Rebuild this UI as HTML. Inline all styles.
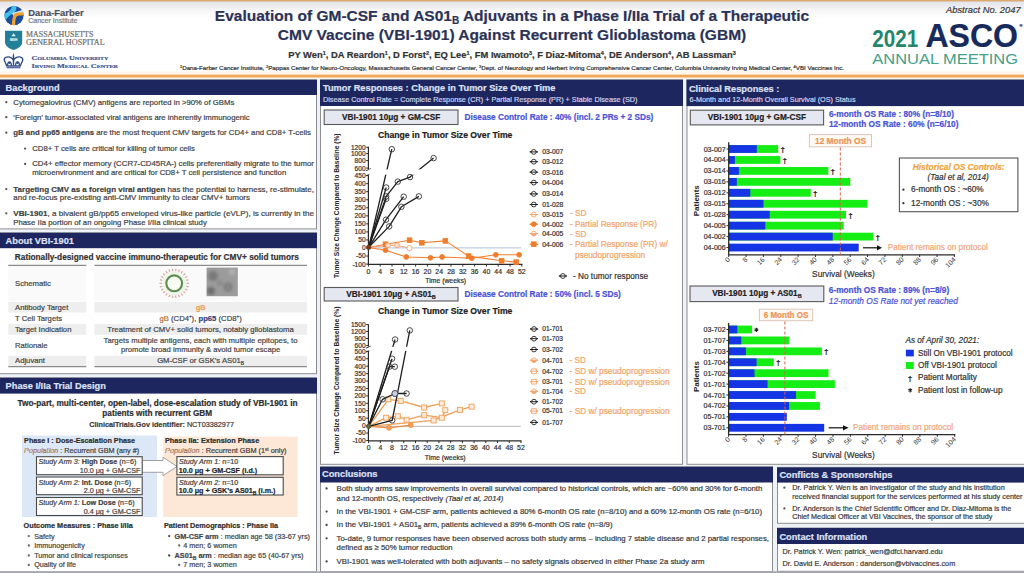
<!DOCTYPE html>
<html><head><meta charset="utf-8"><title>VBI-1901 Poster</title>
<style>
html,body{margin:0;padding:0;background:#fff;}
body{width:1024px;height:573px;overflow:hidden;}
svg{display:block;font-family:"Liberation Sans", sans-serif;}
</style></head><body>
<svg width="1024" height="573" viewBox="0 0 1024 573">
<rect x="0" y="0" width="1024" height="573" fill="#eef2f9"/>
<defs><linearGradient id="hg" x1="0" y1="0" x2="0" y2="1"><stop offset="0" stop-color="#e2e2ea"/><stop offset="0.06" stop-color="#e8e8ef"/><stop offset="0.13" stop-color="#f6f4f4"/><stop offset="0.24" stop-color="#ffffff"/><stop offset="1" stop-color="#ffffff"/></linearGradient><linearGradient id="og" x1="0" y1="0" x2="0" y2="1"><stop offset="0" stop-color="#f6c890"/><stop offset="0.5" stop-color="#ee9a40"/><stop offset="1" stop-color="#f6c890"/></linearGradient></defs>
<rect x="0" y="0" width="1024" height="75" fill="url(#hg)"/>
<rect x="0" y="0" width="1024" height="1.5" fill="#d9aa70"/>
<rect x="0" y="71.5" width="1024" height="3" fill="#fdf6ea"/>
<rect x="0" y="74.4" width="1024" height="3.4" fill="url(#og)"/>
<rect x="0" y="77.8" width="1024" height="1.4" fill="#f4f2f0"/>
<text x="512" y="21.1" font-size="15.5" font-weight="bold" fill="#2b3256" stroke="#2b3256" stroke-width="0.2" text-anchor="middle">Evaluation of GM-CSF and AS01<tspan font-size="10" dy="2.5">B</tspan><tspan dy="-2.5"> Adjuvants in a Phase I/IIa Trial of a Therapeutic</tspan></text>
<text x="512" y="39.6" font-size="15.5" font-weight="bold" fill="#2b3256" stroke="#2b3256" stroke-width="0.2" text-anchor="middle" textLength="468.5" lengthAdjust="spacingAndGlyphs">CMV Vaccine (VBI-1901) Against Recurrent Glioblastoma (GBM)</text>
<text x="512" y="58" font-size="9.4" font-weight="bold" fill="#333333" stroke="#333333" stroke-width="0.2" text-anchor="middle">PY Wen<tspan font-size="5.5" dy="-3.5">1</tspan><tspan dy="3.5">, DA Reardon<tspan font-size="5.5" dy="-3.5">1</tspan><tspan dy="3.5">, D Forst<tspan font-size="5.5" dy="-3.5">2</tspan><tspan dy="3.5">, EQ Lee<tspan font-size="5.5" dy="-3.5">1</tspan><tspan dy="3.5">, FM Iwamoto<tspan font-size="5.5" dy="-3.5">3</tspan><tspan dy="3.5">, F Diaz-Mitoma<tspan font-size="5.5" dy="-3.5">4</tspan><tspan dy="3.5">, DE Anderson<tspan font-size="5.5" dy="-3.5">4</tspan><tspan dy="3.5">, AB Lassman<tspan font-size="5.5" dy="-3.5">3</tspan><tspan dy="3.5"></tspan></tspan></tspan></tspan></tspan></tspan></tspan></tspan></text>
<text x="512" y="69.7" font-size="5.6" fill="#333" stroke="#333" stroke-width="0.2" text-anchor="middle" textLength="664" lengthAdjust="spacingAndGlyphs"><tspan font-size="3.5" dy="-2">1</tspan><tspan dy="2">Dana-Farber Cancer Institute, </tspan><tspan font-size="3.5" dy="-2">2</tspan><tspan dy="2">Pappas Center for Neuro-Oncology, Massachusetts General Cancer Center, </tspan><tspan font-size="3.5" dy="-2">3</tspan><tspan dy="2">Dept. of Neurology and Herbert Irving Comprehensive Cancer Center, Columbia University Irving Medical Center, </tspan><tspan font-size="3.5" dy="-2">4</tspan><tspan dy="2">VBI Vaccines Inc.</tspan></text>
<defs><clipPath id="dfc"><circle cx="14" cy="15.5" r="9.8"/></clipPath></defs>
<g clip-path="url(#dfc)"><circle cx="14" cy="15.5" r="9.8" fill="#1c4c9c"/><path d="M15,4 C18,8 16,12 12,14 C9,16 6,18 4,24 L1,24 L1,14 C5,14 9,12 11,9 C12,7 12,5 12,4 Z" fill="#45bfea"/><path d="M12,13.5 C14,12 17,12 19,11 L22,10 L24,13 L18,14.2 C16,15 15,17 15,19 Z" fill="#dff3fb" opacity="0.9"/><path d="M11.8,26 C12,21 12.5,16 14.5,13.8 C16,12.6 19,12.5 24.5,12.2 L24.5,15.2 C20,15.3 17.5,15.6 16.6,16.6 C15.5,18 15.2,22 15.2,26 Z" fill="#f2a22c"/></g>
<text x="28.2" y="15.8" font-size="8.7" font-weight="bold" fill="#4d525e" stroke="#4d525e" stroke-width="0.2" textLength="55.5" lengthAdjust="spacingAndGlyphs">Dana-Farber</text>
<text x="28.2" y="23" font-size="6.6" fill="#7a7d85" stroke="#7a7d85" stroke-width="0.2" textLength="49.3" lengthAdjust="spacingAndGlyphs">Cancer Institute</text>
<path d="M5,30.7 L22.2,30.7 L22.2,42 C22.2,46 18,48.6 13.6,50 C9.2,48.6 5,46 5,42 Z" stroke="none" fill="#237f98" stroke-width="1"/>
<text x="13.6" y="41" font-size="3.2" font-weight="bold" fill="#d6eef4" stroke="#d6eef4" stroke-width="0.2" text-anchor="middle">MGH</text>
<path d="M11.4,36.2 L13.6,33.2 L15.8,36.2 Z" stroke="none" fill="#d6eef4" stroke-width="1"/>
<text x="26" y="37.1" font-size="7.9" fill="#6e6e6e" stroke="#6e6e6e" stroke-width="0.2" textLength="67.3" lengthAdjust="spacingAndGlyphs" font-family="Liberation Serif">MASSACHUSETTS</text>
<text x="26" y="44.7" font-size="7.9" fill="#6e6e6e" stroke="#6e6e6e" stroke-width="0.2" textLength="78.7" lengthAdjust="spacingAndGlyphs" font-family="Liberation Serif">GENERAL HOSPITAL</text>
<g fill="none" stroke="#2e4c80" stroke-width="1.3"><path d="M4.2,60 C4,56.8 8.5,56.4 10.8,57.6 C12.2,58.3 13,59.2 13.5,60.2 C14,59.2 14.8,58.3 16.2,57.6 C18.5,56.4 23,56.8 22.8,60 L20.3,65.8 L6.7,65.8 Z"/><path d="M7.6,65.8 C7.4,60.6 11.4,60.6 11.4,65.8"/><path d="M15.6,65.8 C15.6,60.6 19.6,60.6 19.4,65.8"/></g><g fill="#2e4c80"><circle cx="9.5" cy="63" r="1.1"/><circle cx="17.5" cy="63" r="1.1"/><path d="M13.5,53 C14.3,55 14.5,57 14.3,60 L14.1,65.5 L12.9,65.5 L12.7,60 C12.5,57 12.7,55 13.5,53 Z"/><rect x="6.6" y="66.4" width="13.8" height="1.9" fill="#5868a2"/></g>
<text x="31.5" y="59.9" font-size="6.6" font-weight="bold" fill="#45588f" stroke="#45588f" stroke-width="0.2" textLength="77" lengthAdjust="spacingAndGlyphs" font-family="Liberation Serif">C<tspan font-size="5">OLUMBIA</tspan> U<tspan font-size="5">NIVERSITY</tspan></text>
<text x="31.5" y="67.9" font-size="6.6" font-weight="bold" fill="#45588f" stroke="#45588f" stroke-width="0.2" textLength="86.5" lengthAdjust="spacingAndGlyphs" font-family="Liberation Serif">I<tspan font-size="5">RVING</tspan> M<tspan font-size="5">EDICAL</tspan> C<tspan font-size="5">ENTER</tspan></text>
<text x="1020.6" y="12.9" font-size="8.9" font-style="italic" fill="#3a3a3a" stroke="#3a3a3a" stroke-width="0.2" text-anchor="end" textLength="74.6" lengthAdjust="spacingAndGlyphs">Abstract No. 2047</text>
<text x="872.3" y="47.1" font-size="23" font-weight="bold" fill="#23866a" textLength="45.9" lengthAdjust="spacingAndGlyphs">2021</text>
<text x="925.4" y="47.1" font-size="32.5" font-weight="bold" fill="#162a5c" stroke="#162a5c" stroke-width="0.2" textLength="92.6" lengthAdjust="spacingAndGlyphs">ASCO</text>
<text x="1019.5" y="27" font-size="4" fill="#162a5c" stroke="#162a5c" stroke-width="0.2">®</text>
<text x="872.3" y="64.3" font-size="15.5" fill="#45a089" textLength="145.7" lengthAdjust="spacingAndGlyphs">ANNUAL MEETING</text>
<rect x="-2" y="79.8" width="318.5" height="149.10000000000002" fill="#ffffff" stroke="#8e8e8e" stroke-width="1"/>
<rect x="0" y="79.8" width="317" height="15.200000000000003" fill="#1e2660"/>
<text x="5.6" y="90.8" font-size="9.25" font-weight="bold" fill="#dde1f4" stroke="#dde1f4" stroke-width="0.2">Background</text>
<rect x="-2" y="232.8" width="318.5" height="140.89999999999998" fill="#ffffff" stroke="#8e8e8e" stroke-width="1"/>
<rect x="0" y="232.8" width="317" height="15.399999999999977" fill="#1e2660"/>
<text x="5.6" y="243.8" font-size="9.25" font-weight="bold" fill="#dde1f4" stroke="#dde1f4" stroke-width="0.2">About VBI-1901</text>
<rect x="-2" y="377.8" width="318.5" height="194.2" fill="#ffffff" stroke="#8e8e8e" stroke-width="1"/>
<rect x="0" y="377.8" width="317" height="15.800000000000011" fill="#1e2660"/>
<text x="5.6" y="389.4" font-size="9.25" font-weight="bold" fill="#dde1f4" stroke="#dde1f4" stroke-width="0.2">Phase I/IIa Trial Design</text>
<circle cx="6.3" cy="102.19999999999999" r="1.15" fill="#555"/>
<text x="13.3" y="104.6" font-size="7.75" fill="#424242" stroke="#424242" stroke-width="0.2" textLength="221" lengthAdjust="spacingAndGlyphs">Cytomegalovirus (CMV) antigens are reported in &gt;90% of GBMs</text>
<circle cx="6.3" cy="117.19999999999999" r="1.15" fill="#555"/>
<text x="13.3" y="119.6" font-size="7.75" fill="#424242" stroke="#424242" stroke-width="0.2" textLength="236.4" lengthAdjust="spacingAndGlyphs">‘Foreign’ tumor-associated viral antigens are inherently immunogenic</text>
<circle cx="6.3" cy="132.7" r="1.15" fill="#555"/>
<text x="13.3" y="135.1" font-size="7.75" fill="#424242" stroke="#424242" stroke-width="0.2" textLength="297.5" lengthAdjust="spacingAndGlyphs"><tspan font-weight="bold">gB and pp65 antigens</tspan> are the most frequent CMV targets for CD4+ and CD8+ T-cells</text>
<circle cx="25.1" cy="148.6" r="1.15" fill="#555"/>
<text x="32.2" y="151" font-size="7.75" fill="#424242" stroke="#424242" stroke-width="0.2" textLength="162.7" lengthAdjust="spacingAndGlyphs">CD8+ T cells are critical for killing of tumor cells</text>
<circle cx="25.1" cy="164.0" r="1.15" fill="#555"/>
<text x="32.2" y="166.4" font-size="7.75" fill="#424242" stroke="#424242" stroke-width="0.2" textLength="281.8" lengthAdjust="spacingAndGlyphs">CD4+ effector memory (CCR7-CD45RA-) cells preferentially migrate to the tumor</text>
<text x="32.2" y="175.3" font-size="7.75" fill="#424242" stroke="#424242" stroke-width="0.2" textLength="254" lengthAdjust="spacingAndGlyphs">microenvironment and are critical for CD8+ T cell persistence and function</text>
<circle cx="6.3" cy="189.1" r="1.15" fill="#555"/>
<text x="13.3" y="191.5" font-size="7.75" fill="#424242" stroke="#424242" stroke-width="0.2" textLength="300.7" lengthAdjust="spacingAndGlyphs"><tspan font-weight="bold">Targeting CMV as a foreign viral antigen</tspan> has the potential to harness, re-stimulate,</text>
<text x="13.3" y="200.4" font-size="7.75" fill="#424242" stroke="#424242" stroke-width="0.2" textLength="236.7" lengthAdjust="spacingAndGlyphs">and re-focus pre-existing anti-CMV immunity to clear CMV+ tumors</text>
<circle cx="6.3" cy="213.29999999999998" r="1.15" fill="#555"/>
<text x="13.3" y="215.7" font-size="7.75" fill="#424242" stroke="#424242" stroke-width="0.2" textLength="300.7" lengthAdjust="spacingAndGlyphs"><tspan font-weight="bold">VBI-1901</tspan>, a bivalent gB/pp65 enveloped virus-like particle (eVLP), is currently in the</text>
<text x="13.3" y="224.8" font-size="7.75" fill="#424242" stroke="#424242" stroke-width="0.2" textLength="193.5" lengthAdjust="spacingAndGlyphs">Phase IIa portion of an ongoing Phase I/IIa clinical study</text>
<text x="14.8" y="259.6" font-size="8.28" font-weight="bold" fill="#333" stroke="#333" stroke-width="0.2" textLength="284" lengthAdjust="spacingAndGlyphs">Rationally-designed vaccine immuno-therapeutic for CMV+ solid tumors</text>
<line x1="8.3" y1="265.4" x2="86.3" y2="265.4" stroke="#8a8a8a" stroke-width="1.3"/>
<line x1="94.4" y1="265.4" x2="307" y2="265.4" stroke="#8a8a8a" stroke-width="1.3"/>
<rect x="8.3" y="266" width="78" height="35.5" fill="#fafafa"/>
<rect x="94.4" y="266" width="212.6" height="35.5" fill="#fafafa"/>
<rect x="8.3" y="302" width="78" height="10.5" fill="#eeeeee"/>
<rect x="94.4" y="302" width="212.6" height="10.5" fill="#eeeeee"/>
<rect x="8.3" y="324" width="78" height="10.800000000000011" fill="#eeeeee"/>
<rect x="94.4" y="324" width="212.6" height="10.800000000000011" fill="#eeeeee"/>
<rect x="8.3" y="355.8" width="78" height="10.199999999999989" fill="#eeeeee"/>
<rect x="94.4" y="355.8" width="212.6" height="10.199999999999989" fill="#eeeeee"/>
<line x1="8.3" y1="366.6" x2="86.3" y2="366.6" stroke="#8a8a8a" stroke-width="1.3"/>
<line x1="94.4" y1="366.6" x2="307" y2="366.6" stroke="#8a8a8a" stroke-width="1.3"/>
<text x="15" y="285.8" font-size="7.7" fill="#444" stroke="#444" stroke-width="0.2">Schematic</text>
<text x="15" y="309.8" font-size="7.7" fill="#444" stroke="#444" stroke-width="0.2">Antibody Target</text>
<text x="15" y="320.7" font-size="7.7" fill="#444" stroke="#444" stroke-width="0.2">T Cell Targets</text>
<text x="15" y="331.7" font-size="7.7" fill="#444" stroke="#444" stroke-width="0.2">Target Indication</text>
<text x="15" y="347.7" font-size="7.7" fill="#444" stroke="#444" stroke-width="0.2">Rationale</text>
<text x="15" y="363.4" font-size="7.7" fill="#444" stroke="#444" stroke-width="0.2">Adjuvant</text>
<text x="200.6" y="309.7" font-size="7.7" fill="#f08a3c" stroke="#f08a3c" stroke-width="0.2" text-anchor="middle">gB</text>
<text x="200.6" y="320.9" font-size="7.7" fill="#444" stroke="#444" stroke-width="0.2" text-anchor="middle"><tspan fill="#f08a3c">gB</tspan> (CD4<tspan font-size="4.5" dy="-3">+</tspan><tspan dy="3">), </tspan><tspan fill="#2c3c8c" font-weight="bold">pp65</tspan> (CD8<tspan font-size="4.5" dy="-3">+</tspan><tspan dy="3">)</tspan></text>
<text x="200.6" y="331.7" font-size="7.7" fill="#444" stroke="#444" stroke-width="0.2" text-anchor="middle" textLength="186.5" lengthAdjust="spacingAndGlyphs">Treatment of CMV+ solid tumors, notably glioblastoma</text>
<text x="200.6" y="342.8" font-size="7.7" fill="#444" stroke="#444" stroke-width="0.2" text-anchor="middle" textLength="194" lengthAdjust="spacingAndGlyphs">Targets multiple antigens, each with multiple epitopes, to</text>
<text x="200.6" y="351.7" font-size="7.7" fill="#444" stroke="#444" stroke-width="0.2" text-anchor="middle">promote broad immunity &amp; avoid tumor escape</text>
<text x="200.6" y="363.3" font-size="7.7" fill="#444" stroke="#444" stroke-width="0.2" text-anchor="middle">GM-CSF or GSK’s AS01<tspan font-size="5" dy="2">B</tspan></text>
<g transform="translate(174.2,283.3)"><circle r="11.8" fill="#eef5e8"/><line x1="12.30" y1="0.00" x2="14.80" y2="0.00" stroke="#d9a49c" stroke-width="1.2"/><line x1="11.94" y1="2.94" x2="14.37" y2="3.54" stroke="#d9a49c" stroke-width="1.2"/><line x1="10.89" y1="5.72" x2="13.10" y2="6.88" stroke="#d9a49c" stroke-width="1.2"/><line x1="9.21" y1="8.16" x2="11.08" y2="9.81" stroke="#d9a49c" stroke-width="1.2"/><line x1="6.99" y1="10.12" x2="8.41" y2="12.18" stroke="#d9a49c" stroke-width="1.2"/><line x1="4.36" y1="11.50" x2="5.25" y2="13.84" stroke="#d9a49c" stroke-width="1.2"/><line x1="1.48" y1="12.21" x2="1.78" y2="14.69" stroke="#d9a49c" stroke-width="1.2"/><line x1="-1.48" y1="12.21" x2="-1.78" y2="14.69" stroke="#d9a49c" stroke-width="1.2"/><line x1="-4.36" y1="11.50" x2="-5.25" y2="13.84" stroke="#d9a49c" stroke-width="1.2"/><line x1="-6.99" y1="10.12" x2="-8.41" y2="12.18" stroke="#d9a49c" stroke-width="1.2"/><line x1="-9.21" y1="8.16" x2="-11.08" y2="9.81" stroke="#d9a49c" stroke-width="1.2"/><line x1="-10.89" y1="5.72" x2="-13.10" y2="6.88" stroke="#d9a49c" stroke-width="1.2"/><line x1="-11.94" y1="2.94" x2="-14.37" y2="3.54" stroke="#d9a49c" stroke-width="1.2"/><line x1="-12.30" y1="-0.00" x2="-14.80" y2="-0.00" stroke="#d9a49c" stroke-width="1.2"/><line x1="-11.94" y1="-2.94" x2="-14.37" y2="-3.54" stroke="#d9a49c" stroke-width="1.2"/><line x1="-10.89" y1="-5.72" x2="-13.10" y2="-6.88" stroke="#d9a49c" stroke-width="1.2"/><line x1="-9.21" y1="-8.16" x2="-11.08" y2="-9.81" stroke="#d9a49c" stroke-width="1.2"/><line x1="-6.99" y1="-10.12" x2="-8.41" y2="-12.18" stroke="#d9a49c" stroke-width="1.2"/><line x1="-4.36" y1="-11.50" x2="-5.25" y2="-13.84" stroke="#d9a49c" stroke-width="1.2"/><line x1="-1.48" y1="-12.21" x2="-1.78" y2="-14.69" stroke="#d9a49c" stroke-width="1.2"/><line x1="1.48" y1="-12.21" x2="1.78" y2="-14.69" stroke="#d9a49c" stroke-width="1.2"/><line x1="4.36" y1="-11.50" x2="5.25" y2="-13.84" stroke="#d9a49c" stroke-width="1.2"/><line x1="6.99" y1="-10.12" x2="8.41" y2="-12.18" stroke="#d9a49c" stroke-width="1.2"/><line x1="9.21" y1="-8.16" x2="11.08" y2="-9.81" stroke="#d9a49c" stroke-width="1.2"/><line x1="10.89" y1="-5.72" x2="13.10" y2="-6.88" stroke="#d9a49c" stroke-width="1.2"/><line x1="11.94" y1="-2.94" x2="14.37" y2="-3.54" stroke="#d9a49c" stroke-width="1.2"/><circle r="7.9" fill="#f6fcf2" stroke="#5c8c52" stroke-width="2.1"/></g>
<defs><filter id="bl" x="-0.2" y="-0.2" width="1.4" height="1.4"><feGaussianBlur stdDeviation="1.6"/></filter></defs>
<rect x="206.6" y="267.6" width="31.2" height="28.6" fill="#9c9c9c"/>
<defs><clipPath id="emc"><rect x="206.6" y="267.6" width="31.2" height="28.6"/></clipPath></defs><g clip-path="url(#emc)"><g filter="url(#bl)" opacity="0.9"><circle cx="213" cy="276" r="5" fill="#777"/><circle cx="228" cy="287" r="4.5" fill="#7a7a7a"/><circle cx="211" cy="291" r="4" fill="#6a6a6a"/><circle cx="232" cy="272" r="3.5" fill="#b0b0b0"/><circle cx="220" cy="283" r="3" fill="#8a8a8a"/></g></g>
<circle cx="228" cy="287" r="2.2" fill="#888" opacity="0.8"/>
<text x="157.6" y="405.6" font-size="8.27" font-weight="bold" fill="#2e2e2e" stroke="#2e2e2e" stroke-width="0.2" text-anchor="middle" textLength="280" lengthAdjust="spacingAndGlyphs">Two-part, multi-center, open-label, dose-escalation study of VBI-1901 in</text>
<text x="157.2" y="415.6" font-size="8.27" font-weight="bold" fill="#2e2e2e" stroke="#2e2e2e" stroke-width="0.2" text-anchor="middle" textLength="109.7" lengthAdjust="spacingAndGlyphs">patients with recurrent GBM</text>
<text x="161.6" y="427.4" font-size="7.3" fill="#3a3a3a" stroke="#3a3a3a" stroke-width="0.2" text-anchor="middle" textLength="144.7" lengthAdjust="spacingAndGlyphs"><tspan font-weight="bold">ClinicalTrials.Gov identifier:</tspan> NCT03382977</text>
<rect x="22" y="435.5" width="135" height="81.5" fill="#dde8f7"/>
<rect x="163.3" y="436.6" width="134.2" height="80.4" fill="#fde7d6"/>
<text x="24.1" y="443.3" font-size="7.21" font-weight="bold" fill="#2e2e2e" stroke="#2e2e2e" stroke-width="0.2" textLength="111" lengthAdjust="spacingAndGlyphs">Phase I : Dose-Escalation Phase</text>
<text x="24.1" y="452.8" font-size="7.2" fill="#3e3e3e" stroke="#3e3e3e" stroke-width="0.2" textLength="115" lengthAdjust="spacingAndGlyphs"><tspan fill="#f4b08a" font-style="italic">Population</tspan> : Recurrent GBM (any #)</text>
<text x="165" y="443.3" font-size="7.21" font-weight="bold" fill="#2e2e2e" stroke="#2e2e2e" stroke-width="0.2" textLength="94.2" lengthAdjust="spacingAndGlyphs">Phase IIa: Extension Phase</text>
<text x="165" y="453" font-size="7.2" fill="#3e3e3e" stroke="#3e3e3e" stroke-width="0.2" textLength="121.5" lengthAdjust="spacingAndGlyphs"><tspan fill="#f4b08a" font-style="italic">Population</tspan> : Recurrent GBM (1<tspan font-size="4.5" dy="-2.5">st</tspan><tspan dy="2.5"> only)</tspan></text>
<path d="M142.2,460.5 L163,460.5 L163,457.3 L177,466.4 L163,475.7 L163,472.3 L142.2,472.3" stroke="#8a8a8a" fill="#ffffff" stroke-width="0.8"/>
<rect x="36.5" y="456.7" width="105.7" height="18" fill="#ffffff" stroke="#4a4a4a" stroke-width="1.1"/>
<text x="38.5" y="464.2" font-size="7.2" fill="#3e3e3e" stroke="#3e3e3e" stroke-width="0.2"><tspan font-style="italic">Study Arm 3:</tspan> <tspan font-weight="bold">High Dose</tspan> (n=6)</text>
<text x="140.39999999999998" y="472.7" font-size="7.2" fill="#3e3e3e" stroke="#3e3e3e" stroke-width="0.2" text-anchor="end">10.0 μg + GM-CSF</text>
<rect x="36.5" y="477" width="105.7" height="17.7" fill="#ffffff" stroke="#4a4a4a" stroke-width="1.1"/>
<text x="38.5" y="484.5" font-size="7.2" fill="#3e3e3e" stroke="#3e3e3e" stroke-width="0.2"><tspan font-style="italic">Study Arm 2:</tspan> <tspan font-weight="bold">Int. Dose</tspan> (n=6)</text>
<text x="140.39999999999998" y="493" font-size="7.2" fill="#3e3e3e" stroke="#3e3e3e" stroke-width="0.2" text-anchor="end">2.0 μg + GM-CSF</text>
<rect x="36.5" y="497.5" width="105.7" height="18" fill="#ffffff" stroke="#4a4a4a" stroke-width="1.1"/>
<text x="38.5" y="505.0" font-size="7.2" fill="#3e3e3e" stroke="#3e3e3e" stroke-width="0.2"><tspan font-style="italic">Study Arm 1:</tspan> <tspan font-weight="bold">Low Dose</tspan> (n=6)</text>
<text x="140.39999999999998" y="513.5" font-size="7.2" fill="#3e3e3e" stroke="#3e3e3e" stroke-width="0.2" text-anchor="end">0.4 μg + GM-CSF</text>
<rect x="176.9" y="456.6" width="106.3" height="18.2" fill="#ffffff" stroke="#4a4a4a" stroke-width="1.1"/>
<text x="178.9" y="464.1" font-size="7.2" fill="#3e3e3e" stroke="#3e3e3e" stroke-width="0.2"><tspan font-style="italic">Study Arm 1:</tspan> n=10</text>
<text x="178.70000000000002" y="472.6" font-size="7.2" font-weight="bold" fill="#222" stroke="#222" stroke-width="0.2">10.0 μg + GM-CSF (i.d.)</text>
<rect x="176.9" y="477.3" width="106.3" height="17.7" fill="#ffffff" stroke="#4a4a4a" stroke-width="1.1"/>
<text x="178.9" y="484.8" font-size="7.2" fill="#3e3e3e" stroke="#3e3e3e" stroke-width="0.2"><tspan font-style="italic">Study Arm 2:</tspan> n=10</text>
<text x="178.70000000000002" y="493.3" font-size="7.2" font-weight="bold" fill="#222" stroke="#222" stroke-width="0.2">10.0 μg + GSK’s AS01<tspan font-size="5" dy="2">B</tspan><tspan dy="-2"> (i.m.)</tspan></text>
<text x="23.6" y="528" font-size="7.27" font-weight="bold" fill="#2e2e2e" stroke="#2e2e2e" stroke-width="0.2" textLength="109.1" lengthAdjust="spacingAndGlyphs">Outcome Measures : Phase I/IIa</text>
<circle cx="28.8" cy="536.1" r="1.15" fill="#666"/>
<text x="34.2" y="538.5" font-size="7.23" fill="#444" stroke="#444" stroke-width="0.2">Safety</text>
<circle cx="28.8" cy="545.5" r="1.15" fill="#666"/>
<text x="34.2" y="547.9" font-size="7.23" fill="#444" stroke="#444" stroke-width="0.2">Immunogenicity</text>
<circle cx="28.8" cy="555.5" r="1.15" fill="#666"/>
<text x="34.2" y="557.9" font-size="7.23" fill="#444" stroke="#444" stroke-width="0.2">Tumor and clinical responses</text>
<circle cx="28.8" cy="565.0" r="1.15" fill="#666"/>
<text x="34.2" y="567.4" font-size="7.23" fill="#444" stroke="#444" stroke-width="0.2">Quality of life</text>
<text x="164" y="528" font-size="7.22" font-weight="bold" fill="#2e2e2e" stroke="#2e2e2e" stroke-width="0.2" textLength="114" lengthAdjust="spacingAndGlyphs">Patient Demographics : Phase IIa</text>
<circle cx="169.2" cy="536.1" r="1.15" fill="#444"/>
<text x="174.5" y="538.5" font-size="7.23" fill="#444" stroke="#444" stroke-width="0.2" textLength="135.5" lengthAdjust="spacingAndGlyphs"><tspan font-weight="bold">GM-CSF arm</tspan> : median age 58 (33-67 yrs)</text>
<circle cx="179.2" cy="545.5" r="1.15" fill="#666"/>
<text x="183.3" y="547.9" font-size="7.23" fill="#444" stroke="#444" stroke-width="0.2">4 men; 6 women</text>
<circle cx="169.2" cy="555.5" r="1.15" fill="#444"/>
<text x="174.5" y="557.9" font-size="7.23" fill="#444" stroke="#444" stroke-width="0.2" textLength="129" lengthAdjust="spacingAndGlyphs"><tspan font-weight="bold">AS01<tspan font-size="5" dy="2">B</tspan><tspan dy="-2"> arm</tspan></tspan> : median age 65 (40-67 yrs)</text>
<circle cx="179.2" cy="565.0" r="1.15" fill="#666"/>
<text x="183.3" y="567.4" font-size="7.23" fill="#444" stroke="#444" stroke-width="0.2">7 men; 3 women</text>
<rect x="320.5" y="79.8" width="362.0" height="384.5" fill="#ffffff" stroke="#8e8e8e" stroke-width="1"/>
<rect x="320" y="79.8" width="363" height="26.200000000000003" fill="#1e2660"/>
<text x="323" y="91.3" font-size="9.25" font-weight="bold" fill="#dde1f4" stroke="#dde1f4" stroke-width="0.2">Tumor Responses : Change in Tumor Size Over Time</text>
<text x="323" y="102" font-size="7.26" fill="#cdd2ee" stroke="#cdd2ee" stroke-width="0.2">Disease Control Rate = Complete Response (CR) + Partial Response (PR) + Stable Disease (SD)</text>
<rect x="324.2" y="110" width="133.8" height="14.5" fill="#e5e7f1" stroke="#5a5a5a" stroke-width="1.1"/>
<text x="391.1" y="119.9" font-size="8.2" font-weight="bold" fill="#222" stroke="#222" stroke-width="0.2" text-anchor="middle" textLength="98.2" lengthAdjust="spacingAndGlyphs">VBI-1901 10μg + GM-CSF</text>
<text x="464.5" y="119.9" font-size="8.26" font-weight="bold" fill="#4a52d6" stroke="#4a52d6" stroke-width="0.2" textLength="188.8" lengthAdjust="spacingAndGlyphs">Disease Control Rate : 40% (incl. 2 PRs + 2 SDs)</text>
<text x="378" y="137.6" font-size="8.63" font-weight="bold" fill="#222" stroke="#222" stroke-width="0.2" textLength="134.4" lengthAdjust="spacingAndGlyphs">Change in Tumor Size Over Time</text>
<rect x="324.2" y="287.5" width="133.8" height="13.5" fill="#e5e7f1" stroke="#5a5a5a" stroke-width="1.1"/>
<text x="391.1" y="296.9" font-size="8.2" font-weight="bold" fill="#222" stroke="#222" stroke-width="0.2" text-anchor="middle">VBI-1901 10μg + AS01<tspan font-size="5.5" dy="2">B</tspan></text>
<text x="464.5" y="296.9" font-size="8.26" font-weight="bold" fill="#4a52d6" stroke="#4a52d6" stroke-width="0.2">Disease Control Rate : 50% (incl. 5 SDs)</text>
<text x="378" y="314" font-size="8.63" font-weight="bold" fill="#222" stroke="#222" stroke-width="0.2" textLength="134.4" lengthAdjust="spacingAndGlyphs">Change in Tumor Size Over Time</text>
<text transform="translate(339.2,205.8) rotate(-90)" font-size="6.6" font-weight="bold" fill="#222" text-anchor="middle">Tumor Size Change Compared to Baseline (%)</text>
<line x1="368.4" y1="146.8" x2="368.4" y2="169" stroke="#2a2a2a" stroke-width="1.2"/>
<line x1="368.4" y1="175.2" x2="368.4" y2="264.4" stroke="#2a2a2a" stroke-width="1.2"/>
<line x1="366.2" y1="147.3" x2="368.4" y2="147.3" stroke="#2a2a2a" stroke-width="1"/>
<text x="365.59999999999997" y="149.70000000000002" font-size="6.6" fill="#333" stroke="#333" stroke-width="0.2" text-anchor="end">1200</text>
<line x1="366.2" y1="153.6" x2="368.4" y2="153.6" stroke="#2a2a2a" stroke-width="1"/>
<text x="365.59999999999997" y="156.0" font-size="6.6" fill="#333" stroke="#333" stroke-width="0.2" text-anchor="end">1000</text>
<line x1="366.2" y1="160.6" x2="368.4" y2="160.6" stroke="#2a2a2a" stroke-width="1"/>
<text x="365.59999999999997" y="163.0" font-size="6.6" fill="#333" stroke="#333" stroke-width="0.2" text-anchor="end">800</text>
<line x1="366.2" y1="168.1" x2="368.4" y2="168.1" stroke="#2a2a2a" stroke-width="1"/>
<text x="365.59999999999997" y="170.5" font-size="6.6" fill="#333" stroke="#333" stroke-width="0.2" text-anchor="end">600</text>
<line x1="366.2" y1="175.6" x2="368.4" y2="175.6" stroke="#2a2a2a" stroke-width="1"/>
<text x="365.59999999999997" y="178.0" font-size="6.6" fill="#333" stroke="#333" stroke-width="0.2" text-anchor="end">450</text>
<line x1="366.2" y1="183.64545454545456" x2="368.4" y2="183.64545454545456" stroke="#2a2a2a" stroke-width="1"/>
<text x="365.59999999999997" y="186.04545454545456" font-size="6.6" fill="#333" stroke="#333" stroke-width="0.2" text-anchor="end">400</text>
<line x1="366.2" y1="191.6909090909091" x2="368.4" y2="191.6909090909091" stroke="#2a2a2a" stroke-width="1"/>
<text x="365.59999999999997" y="194.0909090909091" font-size="6.6" fill="#333" stroke="#333" stroke-width="0.2" text-anchor="end">350</text>
<line x1="366.2" y1="199.73636363636365" x2="368.4" y2="199.73636363636365" stroke="#2a2a2a" stroke-width="1"/>
<text x="365.59999999999997" y="202.13636363636365" font-size="6.6" fill="#333" stroke="#333" stroke-width="0.2" text-anchor="end">300</text>
<line x1="366.2" y1="207.78181818181818" x2="368.4" y2="207.78181818181818" stroke="#2a2a2a" stroke-width="1"/>
<text x="365.59999999999997" y="210.1818181818182" font-size="6.6" fill="#333" stroke="#333" stroke-width="0.2" text-anchor="end">250</text>
<line x1="366.2" y1="215.82727272727274" x2="368.4" y2="215.82727272727274" stroke="#2a2a2a" stroke-width="1"/>
<text x="365.59999999999997" y="218.22727272727275" font-size="6.6" fill="#333" stroke="#333" stroke-width="0.2" text-anchor="end">200</text>
<line x1="366.2" y1="223.87272727272727" x2="368.4" y2="223.87272727272727" stroke="#2a2a2a" stroke-width="1"/>
<text x="365.59999999999997" y="226.27272727272728" font-size="6.6" fill="#333" stroke="#333" stroke-width="0.2" text-anchor="end">150</text>
<line x1="366.2" y1="231.91818181818184" x2="368.4" y2="231.91818181818184" stroke="#2a2a2a" stroke-width="1"/>
<text x="365.59999999999997" y="234.31818181818184" font-size="6.6" fill="#333" stroke="#333" stroke-width="0.2" text-anchor="end">100</text>
<line x1="366.2" y1="239.9636363636364" x2="368.4" y2="239.9636363636364" stroke="#2a2a2a" stroke-width="1"/>
<text x="365.59999999999997" y="242.3636363636364" font-size="6.6" fill="#333" stroke="#333" stroke-width="0.2" text-anchor="end">50</text>
<line x1="366.2" y1="248.00909090909093" x2="368.4" y2="248.00909090909093" stroke="#2a2a2a" stroke-width="1"/>
<text x="365.59999999999997" y="250.40909090909093" font-size="6.6" fill="#333" stroke="#333" stroke-width="0.2" text-anchor="end">0</text>
<line x1="366.2" y1="256.05454545454546" x2="368.4" y2="256.05454545454546" stroke="#2a2a2a" stroke-width="1"/>
<text x="365.59999999999997" y="258.45454545454544" font-size="6.6" fill="#333" stroke="#333" stroke-width="0.2" text-anchor="end">-50</text>
<line x1="366.2" y1="264.1" x2="368.4" y2="264.1" stroke="#2a2a2a" stroke-width="1"/>
<text x="365.59999999999997" y="266.5" font-size="6.6" fill="#333" stroke="#333" stroke-width="0.2" text-anchor="end">-100</text>
<line x1="365.9" y1="170.8" x2="370.9" y2="168.6" stroke="#2a2a2a" stroke-width="0.9"/>
<line x1="365.9" y1="175.8" x2="370.9" y2="173.6" stroke="#2a2a2a" stroke-width="0.9"/>
<line x1="369.4" y1="247.9" x2="521.2" y2="247.9" stroke="#b4c0d6" stroke-width="1"/>
<line x1="367.79999999999995" y1="264.4" x2="522.4" y2="264.4" stroke="#2a2a2a" stroke-width="1.2"/>
<line x1="368.4" y1="264.4" x2="368.4" y2="266.59999999999997" stroke="#2a2a2a" stroke-width="1"/>
<text x="368.4" y="273.9" font-size="6.9" fill="#333" stroke="#333" stroke-width="0.2" text-anchor="middle">0</text>
<line x1="380.2" y1="264.4" x2="380.2" y2="266.59999999999997" stroke="#2a2a2a" stroke-width="1"/>
<text x="380.2" y="273.9" font-size="6.9" fill="#333" stroke="#333" stroke-width="0.2" text-anchor="middle">4</text>
<line x1="392.0" y1="264.4" x2="392.0" y2="266.59999999999997" stroke="#2a2a2a" stroke-width="1"/>
<text x="392.0" y="273.9" font-size="6.9" fill="#333" stroke="#333" stroke-width="0.2" text-anchor="middle">8</text>
<line x1="403.79999999999995" y1="264.4" x2="403.79999999999995" y2="266.59999999999997" stroke="#2a2a2a" stroke-width="1"/>
<text x="403.79999999999995" y="273.9" font-size="6.9" fill="#333" stroke="#333" stroke-width="0.2" text-anchor="middle">12</text>
<line x1="415.59999999999997" y1="264.4" x2="415.59999999999997" y2="266.59999999999997" stroke="#2a2a2a" stroke-width="1"/>
<text x="415.59999999999997" y="273.9" font-size="6.9" fill="#333" stroke="#333" stroke-width="0.2" text-anchor="middle">16</text>
<line x1="427.4" y1="264.4" x2="427.4" y2="266.59999999999997" stroke="#2a2a2a" stroke-width="1"/>
<text x="427.4" y="273.9" font-size="6.9" fill="#333" stroke="#333" stroke-width="0.2" text-anchor="middle">20</text>
<line x1="439.2" y1="264.4" x2="439.2" y2="266.59999999999997" stroke="#2a2a2a" stroke-width="1"/>
<text x="439.2" y="273.9" font-size="6.9" fill="#333" stroke="#333" stroke-width="0.2" text-anchor="middle">24</text>
<line x1="451.0" y1="264.4" x2="451.0" y2="266.59999999999997" stroke="#2a2a2a" stroke-width="1"/>
<text x="451.0" y="273.9" font-size="6.9" fill="#333" stroke="#333" stroke-width="0.2" text-anchor="middle">28</text>
<line x1="462.79999999999995" y1="264.4" x2="462.79999999999995" y2="266.59999999999997" stroke="#2a2a2a" stroke-width="1"/>
<text x="462.79999999999995" y="273.9" font-size="6.9" fill="#333" stroke="#333" stroke-width="0.2" text-anchor="middle">32</text>
<line x1="474.59999999999997" y1="264.4" x2="474.59999999999997" y2="266.59999999999997" stroke="#2a2a2a" stroke-width="1"/>
<text x="474.59999999999997" y="273.9" font-size="6.9" fill="#333" stroke="#333" stroke-width="0.2" text-anchor="middle">36</text>
<line x1="486.4" y1="264.4" x2="486.4" y2="266.59999999999997" stroke="#2a2a2a" stroke-width="1"/>
<text x="486.4" y="273.9" font-size="6.9" fill="#333" stroke="#333" stroke-width="0.2" text-anchor="middle">40</text>
<line x1="498.2" y1="264.4" x2="498.2" y2="266.59999999999997" stroke="#2a2a2a" stroke-width="1"/>
<text x="498.2" y="273.9" font-size="6.9" fill="#333" stroke="#333" stroke-width="0.2" text-anchor="middle">44</text>
<line x1="510.0" y1="264.4" x2="510.0" y2="266.59999999999997" stroke="#2a2a2a" stroke-width="1"/>
<text x="510.0" y="273.9" font-size="6.9" fill="#333" stroke="#333" stroke-width="0.2" text-anchor="middle">48</text>
<line x1="521.8" y1="264.4" x2="521.8" y2="266.59999999999997" stroke="#2a2a2a" stroke-width="1"/>
<text x="521.8" y="273.9" font-size="6.9" fill="#333" stroke="#333" stroke-width="0.2" text-anchor="middle">52</text>
<text x="445.7" y="283.4" font-size="6.85" fill="#333" stroke="#333" stroke-width="0.2" text-anchor="middle">Time (weeks)</text>
<path d="M368.7,247.5 L385.5,244.2 L409.6,240.2 L421.8,242.8 L445.4,240.9 L468.6,256.1 L501.6,260.8 L516.2,262.1" stroke="#f07d2c" fill="none" stroke-width="1.1" stroke-linejoin="round"/>
<path d="M368.7,247.5 L385.5,250.2 L406.3,257 L430.5,257.8 L442.1,257 L471.7,258.3 L495.8,254.8 L519.1,254.8" stroke="#f07d2c" fill="none" stroke-width="1.1" stroke-linejoin="round"/>
<path d="M368.7,247.5 L388,245.3 L397,245.3 L409.5,248.1" stroke="#f3a070" fill="none" stroke-width="1" stroke-linejoin="round"/>
<rect x="383.2" y="241.89999999999998" width="4.6" height="4.6" fill="#f07d2c" stroke="#f07d2c" stroke-width="0.9"/>
<rect x="407.3" y="237.89999999999998" width="4.6" height="4.6" fill="#f07d2c" stroke="#f07d2c" stroke-width="0.9"/>
<rect x="419.5" y="240.5" width="4.6" height="4.6" fill="#f07d2c" stroke="#f07d2c" stroke-width="0.9"/>
<rect x="443.09999999999997" y="238.6" width="4.6" height="4.6" fill="#f07d2c" stroke="#f07d2c" stroke-width="0.9"/>
<rect x="466.3" y="253.8" width="4.6" height="4.6" fill="#f07d2c" stroke="#f07d2c" stroke-width="0.9"/>
<rect x="499.3" y="258.5" width="4.6" height="4.6" fill="#f07d2c" stroke="#f07d2c" stroke-width="0.9"/>
<rect x="513.9000000000001" y="259.8" width="4.6" height="4.6" fill="#f07d2c" stroke="#f07d2c" stroke-width="0.9"/>
<circle cx="385.5" cy="250.2" r="2.4" fill="#f07d2c" stroke="#f07d2c" stroke-width="0.9"/>
<circle cx="406.3" cy="257" r="2.4" fill="#f07d2c" stroke="#f07d2c" stroke-width="0.9"/>
<circle cx="430.5" cy="257.8" r="2.4" fill="#f07d2c" stroke="#f07d2c" stroke-width="0.9"/>
<circle cx="442.1" cy="257" r="2.4" fill="#f07d2c" stroke="#f07d2c" stroke-width="0.9"/>
<circle cx="471.7" cy="258.3" r="2.4" fill="#f07d2c" stroke="#f07d2c" stroke-width="0.9"/>
<circle cx="495.8" cy="254.8" r="2.4" fill="#f07d2c" stroke="#f07d2c" stroke-width="0.9"/>
<circle cx="519.1" cy="254.8" r="2.4" fill="#f07d2c" stroke="#f07d2c" stroke-width="0.9"/>
<circle cx="409.5" cy="248.1" r="2.6" fill="#fff" stroke="#f3a070" stroke-width="0.9"/>
<circle cx="388" cy="245.3" r="2.4" fill="#fde0cc" stroke="#f3a070" stroke-width="0.9"/>
<circle cx="397" cy="245.3" r="2.4" fill="#fde0cc" stroke="#f3a070" stroke-width="0.9"/>
<path d="M368.7,247.3 L391.8,149.2" stroke="#1e1e1e" fill="none" stroke-width="1.3" stroke-linejoin="round"/>
<path d="M368.7,247.3 L386.2,187.5" stroke="#1e1e1e" fill="none" stroke-width="1.3" stroke-linejoin="round"/>
<path d="M368.7,247.3 L386.2,196.4 L397.8,181.6 L410,177.1 L433.6,158.1" stroke="#1e1e1e" fill="none" stroke-width="1.3" stroke-linejoin="round"/>
<path d="M368.7,247.3 L386.2,198.9" stroke="#1e1e1e" fill="none" stroke-width="1.3" stroke-linejoin="round"/>
<path d="M368.7,247.3 L386,219.7 L403.7,196.7" stroke="#1e1e1e" fill="none" stroke-width="1.3" stroke-linejoin="round"/>
<path d="M368.7,247.3 L389.2,226.4 L401.4,206.8 L418.9,196.4" stroke="#1e1e1e" fill="none" stroke-width="1.3" stroke-linejoin="round"/>
<rect x="369.2" y="169.4" width="160" height="5.3" fill="#ffffff"/>
<circle cx="391.8" cy="149.2" r="2.75" fill="none" stroke="#333" stroke-width="0.9"/>
<circle cx="386.2" cy="187.5" r="2.75" fill="none" stroke="#333" stroke-width="0.9"/>
<circle cx="386.2" cy="196.4" r="2.75" fill="none" stroke="#333" stroke-width="0.9"/>
<circle cx="397.8" cy="181.6" r="2.75" fill="none" stroke="#333" stroke-width="0.9"/>
<circle cx="410" cy="177.1" r="2.75" fill="none" stroke="#333" stroke-width="0.9"/>
<circle cx="433.6" cy="158.1" r="2.75" fill="none" stroke="#333" stroke-width="0.9"/>
<circle cx="386.2" cy="198.9" r="2.75" fill="none" stroke="#333" stroke-width="0.9"/>
<circle cx="386" cy="219.7" r="2.75" fill="none" stroke="#333" stroke-width="0.9"/>
<circle cx="403.7" cy="196.7" r="2.75" fill="none" stroke="#333" stroke-width="0.9"/>
<circle cx="389.2" cy="226.4" r="2.75" fill="none" stroke="#333" stroke-width="0.9"/>
<circle cx="401.4" cy="206.8" r="2.75" fill="none" stroke="#333" stroke-width="0.9"/>
<circle cx="418.9" cy="196.4" r="2.75" fill="none" stroke="#333" stroke-width="0.9"/>
<circle cx="368.7" cy="247.3" r="2.2" fill="#7a3a20" stroke="#7a3a20" stroke-width="0.9"/>
<line x1="529.8" y1="151.9" x2="537.8" y2="151.9" stroke="#222" stroke-width="1"/>
<circle cx="533.8" cy="151.9" r="2.4" fill="#fff" stroke="#222" stroke-width="0.9"/>
<line x1="529.8" y1="151.9" x2="537.8" y2="151.9" stroke="#222" stroke-width="1"/>
<text x="542.2" y="154.3" font-size="6.8" fill="#333" stroke="#333" stroke-width="0.2" textLength="21.2" lengthAdjust="spacingAndGlyphs">03-007</text>
<line x1="529.8" y1="161.7" x2="537.8" y2="161.7" stroke="#222" stroke-width="1"/>
<circle cx="533.8" cy="161.7" r="2.4" fill="#fff" stroke="#222" stroke-width="0.9"/>
<line x1="529.8" y1="161.7" x2="537.8" y2="161.7" stroke="#222" stroke-width="1"/>
<text x="542.2" y="164.1" font-size="6.8" fill="#333" stroke="#333" stroke-width="0.2" textLength="21.2" lengthAdjust="spacingAndGlyphs">03-012</text>
<line x1="529.8" y1="172.1" x2="537.8" y2="172.1" stroke="#222" stroke-width="1"/>
<circle cx="533.8" cy="172.1" r="2.4" fill="#fff" stroke="#222" stroke-width="0.9"/>
<line x1="529.8" y1="172.1" x2="537.8" y2="172.1" stroke="#222" stroke-width="1"/>
<text x="542.2" y="174.5" font-size="6.8" fill="#333" stroke="#333" stroke-width="0.2" textLength="21.2" lengthAdjust="spacingAndGlyphs">03-016</text>
<line x1="529.8" y1="182.6" x2="537.8" y2="182.6" stroke="#222" stroke-width="1"/>
<circle cx="533.8" cy="182.6" r="2.4" fill="#fff" stroke="#222" stroke-width="0.9"/>
<line x1="529.8" y1="182.6" x2="537.8" y2="182.6" stroke="#222" stroke-width="1"/>
<text x="542.2" y="185.0" font-size="6.8" fill="#333" stroke="#333" stroke-width="0.2" textLength="21.2" lengthAdjust="spacingAndGlyphs">04-004</text>
<line x1="529.8" y1="193.9" x2="537.8" y2="193.9" stroke="#222" stroke-width="1"/>
<circle cx="533.8" cy="193.9" r="2.4" fill="#fff" stroke="#222" stroke-width="0.9"/>
<line x1="529.8" y1="193.9" x2="537.8" y2="193.9" stroke="#222" stroke-width="1"/>
<text x="542.2" y="196.3" font-size="6.8" fill="#333" stroke="#333" stroke-width="0.2" textLength="21.2" lengthAdjust="spacingAndGlyphs">03-014</text>
<line x1="529.8" y1="204.5" x2="537.8" y2="204.5" stroke="#222" stroke-width="1"/>
<circle cx="533.8" cy="204.5" r="2.4" fill="#fff" stroke="#222" stroke-width="0.9"/>
<line x1="529.8" y1="204.5" x2="537.8" y2="204.5" stroke="#222" stroke-width="1"/>
<text x="542.2" y="206.9" font-size="6.8" fill="#333" stroke="#333" stroke-width="0.2" textLength="21.2" lengthAdjust="spacingAndGlyphs">01-028</text>
<line x1="529.8" y1="214.6" x2="537.8" y2="214.6" stroke="#f2a46c" stroke-width="1"/>
<circle cx="533.8" cy="214.6" r="2.4" fill="#fff" stroke="#f2a46c" stroke-width="0.9"/>
<line x1="529.8" y1="214.6" x2="537.8" y2="214.6" stroke="#f2a46c" stroke-width="1"/>
<text x="542.2" y="217.0" font-size="6.8" fill="#333" stroke="#333" stroke-width="0.2" textLength="21.2" lengthAdjust="spacingAndGlyphs">03-015</text>
<line x1="529.8" y1="224.2" x2="537.8" y2="224.2" stroke="#f07d2c" stroke-width="1"/>
<circle cx="533.8" cy="224.2" r="2.4" fill="#f07d2c" stroke="#f07d2c" stroke-width="0.9"/>
<line x1="529.8" y1="224.2" x2="537.8" y2="224.2" stroke="#f07d2c" stroke-width="1"/>
<text x="542.2" y="226.6" font-size="6.8" fill="#333" stroke="#333" stroke-width="0.2" textLength="21.2" lengthAdjust="spacingAndGlyphs">04-002</text>
<line x1="529.8" y1="233.6" x2="537.8" y2="233.6" stroke="#f2a46c" stroke-width="1"/>
<circle cx="533.8" cy="233.6" r="2.4" fill="#fff" stroke="#f2a46c" stroke-width="0.9"/>
<path d="M531.4,233.6 A2.4,2.4 0 0 0 536.1999999999999,233.6 Z" stroke="none" fill="#f2a46c" stroke-width="1"/>
<line x1="529.8" y1="233.6" x2="537.8" y2="233.6" stroke="#f2a46c" stroke-width="1"/>
<text x="542.2" y="236.0" font-size="6.8" fill="#333" stroke="#333" stroke-width="0.2" textLength="21.2" lengthAdjust="spacingAndGlyphs">04-005</text>
<line x1="529.8" y1="244.2" x2="537.8" y2="244.2" stroke="#f07d2c" stroke-width="1"/>
<rect x="531.5" y="241.89999999999998" width="4.6" height="4.6" fill="#f07d2c" stroke="#f07d2c" stroke-width="0.9"/>
<line x1="529.8" y1="244.2" x2="537.8" y2="244.2" stroke="#f07d2c" stroke-width="1"/>
<text x="542.2" y="246.6" font-size="6.8" fill="#333" stroke="#333" stroke-width="0.2" textLength="21.2" lengthAdjust="spacingAndGlyphs">04-006</text>
<text x="570" y="216.2" font-size="8.24" fill="#f2a468" stroke="#f2a468" stroke-width="0.2">- SD</text>
<text x="570" y="227.2" font-size="8.24" fill="#f2a468" stroke="#f2a468" stroke-width="0.2" textLength="87" lengthAdjust="spacingAndGlyphs">- Partial Response (PR)</text>
<text x="570" y="236.5" font-size="8.24" fill="#f2a468" stroke="#f2a468" stroke-width="0.2">- SD</text>
<text x="570" y="247.2" font-size="8.24" fill="#f2a468" stroke="#f2a468" stroke-width="0.2" textLength="97.9" lengthAdjust="spacingAndGlyphs">- Partial Response (PR) w/</text>
<text x="575" y="257.5" font-size="8.24" fill="#f2a468" stroke="#f2a468" stroke-width="0.2" textLength="70.1" lengthAdjust="spacingAndGlyphs">pseudoprogression</text>
<line x1="558.9" y1="276" x2="566.9" y2="276" stroke="#222" stroke-width="1"/>
<circle cx="562.9" cy="276" r="2.4" fill="#fff" stroke="#222" stroke-width="0.9"/>
<line x1="558.9" y1="276" x2="566.9" y2="276" stroke="#222" stroke-width="1"/>
<text x="573" y="279" font-size="8.24" fill="#333" stroke="#333" stroke-width="0.2" textLength="75.1" lengthAdjust="spacingAndGlyphs">- No tumor response</text>
<text transform="translate(339.2,380.4) rotate(-90)" font-size="6.75" font-weight="bold" fill="#222" text-anchor="middle">Tumor Size Change Compared to Baseline (%)</text>
<line x1="368.4" y1="324.3" x2="368.4" y2="346.6" stroke="#2a2a2a" stroke-width="1.2"/>
<line x1="368.4" y1="351" x2="368.4" y2="440.9" stroke="#2a2a2a" stroke-width="1.2"/>
<line x1="366.2" y1="324.5" x2="368.4" y2="324.5" stroke="#2a2a2a" stroke-width="1"/>
<text x="365.59999999999997" y="326.9" font-size="6.6" fill="#333" stroke="#333" stroke-width="0.2" text-anchor="end">1500</text>
<line x1="366.2" y1="331.5" x2="368.4" y2="331.5" stroke="#2a2a2a" stroke-width="1"/>
<text x="365.59999999999997" y="333.9" font-size="6.6" fill="#333" stroke="#333" stroke-width="0.2" text-anchor="end">1200</text>
<line x1="366.2" y1="338.5" x2="368.4" y2="338.5" stroke="#2a2a2a" stroke-width="1"/>
<text x="365.59999999999997" y="340.9" font-size="6.6" fill="#333" stroke="#333" stroke-width="0.2" text-anchor="end">900</text>
<line x1="366.2" y1="345.6" x2="368.4" y2="345.6" stroke="#2a2a2a" stroke-width="1"/>
<text x="365.59999999999997" y="348.0" font-size="6.6" fill="#333" stroke="#333" stroke-width="0.2" text-anchor="end">600</text>
<line x1="366.2" y1="351.3" x2="368.4" y2="351.3" stroke="#2a2a2a" stroke-width="1"/>
<text x="365.59999999999997" y="353.7" font-size="6.6" fill="#333" stroke="#333" stroke-width="0.2" text-anchor="end">500</text>
<line x1="366.2" y1="358.73333333333335" x2="368.4" y2="358.73333333333335" stroke="#2a2a2a" stroke-width="1"/>
<text x="365.59999999999997" y="361.1333333333333" font-size="6.6" fill="#333" stroke="#333" stroke-width="0.2" text-anchor="end">450</text>
<line x1="366.2" y1="366.1666666666667" x2="368.4" y2="366.1666666666667" stroke="#2a2a2a" stroke-width="1"/>
<text x="365.59999999999997" y="368.56666666666666" font-size="6.6" fill="#333" stroke="#333" stroke-width="0.2" text-anchor="end">400</text>
<line x1="366.2" y1="373.6" x2="368.4" y2="373.6" stroke="#2a2a2a" stroke-width="1"/>
<text x="365.59999999999997" y="376.0" font-size="6.6" fill="#333" stroke="#333" stroke-width="0.2" text-anchor="end">350</text>
<line x1="366.2" y1="381.03333333333336" x2="368.4" y2="381.03333333333336" stroke="#2a2a2a" stroke-width="1"/>
<text x="365.59999999999997" y="383.43333333333334" font-size="6.6" fill="#333" stroke="#333" stroke-width="0.2" text-anchor="end">300</text>
<line x1="366.2" y1="388.4666666666667" x2="368.4" y2="388.4666666666667" stroke="#2a2a2a" stroke-width="1"/>
<text x="365.59999999999997" y="390.8666666666667" font-size="6.6" fill="#333" stroke="#333" stroke-width="0.2" text-anchor="end">250</text>
<line x1="366.2" y1="395.9" x2="368.4" y2="395.9" stroke="#2a2a2a" stroke-width="1"/>
<text x="365.59999999999997" y="398.29999999999995" font-size="6.6" fill="#333" stroke="#333" stroke-width="0.2" text-anchor="end">200</text>
<line x1="366.2" y1="403.3333333333333" x2="368.4" y2="403.3333333333333" stroke="#2a2a2a" stroke-width="1"/>
<text x="365.59999999999997" y="405.7333333333333" font-size="6.6" fill="#333" stroke="#333" stroke-width="0.2" text-anchor="end">150</text>
<line x1="366.2" y1="410.76666666666665" x2="368.4" y2="410.76666666666665" stroke="#2a2a2a" stroke-width="1"/>
<text x="365.59999999999997" y="413.16666666666663" font-size="6.6" fill="#333" stroke="#333" stroke-width="0.2" text-anchor="end">100</text>
<line x1="366.2" y1="418.2" x2="368.4" y2="418.2" stroke="#2a2a2a" stroke-width="1"/>
<text x="365.59999999999997" y="420.59999999999997" font-size="6.6" fill="#333" stroke="#333" stroke-width="0.2" text-anchor="end">50</text>
<line x1="366.2" y1="425.6333333333333" x2="368.4" y2="425.6333333333333" stroke="#2a2a2a" stroke-width="1"/>
<text x="365.59999999999997" y="428.0333333333333" font-size="6.6" fill="#333" stroke="#333" stroke-width="0.2" text-anchor="end">0</text>
<line x1="366.2" y1="433.06666666666666" x2="368.4" y2="433.06666666666666" stroke="#2a2a2a" stroke-width="1"/>
<text x="365.59999999999997" y="435.46666666666664" font-size="6.6" fill="#333" stroke="#333" stroke-width="0.2" text-anchor="end">-50</text>
<line x1="366.2" y1="440.5" x2="368.4" y2="440.5" stroke="#2a2a2a" stroke-width="1"/>
<text x="365.59999999999997" y="442.9" font-size="6.6" fill="#333" stroke="#333" stroke-width="0.2" text-anchor="end">-100</text>
<line x1="365.9" y1="348.2" x2="370.9" y2="346.0" stroke="#2a2a2a" stroke-width="0.9"/>
<line x1="365.9" y1="352.2" x2="370.9" y2="350.0" stroke="#2a2a2a" stroke-width="0.9"/>
<line x1="369.4" y1="426.3" x2="520.8" y2="426.3" stroke="#b8b8b8" stroke-width="1"/>
<line x1="368.0" y1="440.9" x2="521.5600000000001" y2="440.9" stroke="#2a2a2a" stroke-width="1.2"/>
<line x1="368.6" y1="440.9" x2="368.6" y2="443.09999999999997" stroke="#2a2a2a" stroke-width="1"/>
<text x="368.6" y="450.4" font-size="6.9" fill="#333" stroke="#333" stroke-width="0.2" text-anchor="middle">0</text>
<line x1="380.32000000000005" y1="440.9" x2="380.32000000000005" y2="443.09999999999997" stroke="#2a2a2a" stroke-width="1"/>
<text x="380.32000000000005" y="450.4" font-size="6.9" fill="#333" stroke="#333" stroke-width="0.2" text-anchor="middle">4</text>
<line x1="392.04" y1="440.9" x2="392.04" y2="443.09999999999997" stroke="#2a2a2a" stroke-width="1"/>
<text x="392.04" y="450.4" font-size="6.9" fill="#333" stroke="#333" stroke-width="0.2" text-anchor="middle">8</text>
<line x1="403.76000000000005" y1="440.9" x2="403.76000000000005" y2="443.09999999999997" stroke="#2a2a2a" stroke-width="1"/>
<text x="403.76000000000005" y="450.4" font-size="6.9" fill="#333" stroke="#333" stroke-width="0.2" text-anchor="middle">12</text>
<line x1="415.48" y1="440.9" x2="415.48" y2="443.09999999999997" stroke="#2a2a2a" stroke-width="1"/>
<text x="415.48" y="450.4" font-size="6.9" fill="#333" stroke="#333" stroke-width="0.2" text-anchor="middle">16</text>
<line x1="427.20000000000005" y1="440.9" x2="427.20000000000005" y2="443.09999999999997" stroke="#2a2a2a" stroke-width="1"/>
<text x="427.20000000000005" y="450.4" font-size="6.9" fill="#333" stroke="#333" stroke-width="0.2" text-anchor="middle">20</text>
<line x1="438.92" y1="440.9" x2="438.92" y2="443.09999999999997" stroke="#2a2a2a" stroke-width="1"/>
<text x="438.92" y="450.4" font-size="6.9" fill="#333" stroke="#333" stroke-width="0.2" text-anchor="middle">24</text>
<line x1="450.64000000000004" y1="440.9" x2="450.64000000000004" y2="443.09999999999997" stroke="#2a2a2a" stroke-width="1"/>
<text x="450.64000000000004" y="450.4" font-size="6.9" fill="#333" stroke="#333" stroke-width="0.2" text-anchor="middle">28</text>
<line x1="462.36" y1="440.9" x2="462.36" y2="443.09999999999997" stroke="#2a2a2a" stroke-width="1"/>
<text x="462.36" y="450.4" font-size="6.9" fill="#333" stroke="#333" stroke-width="0.2" text-anchor="middle">32</text>
<line x1="474.08000000000004" y1="440.9" x2="474.08000000000004" y2="443.09999999999997" stroke="#2a2a2a" stroke-width="1"/>
<text x="474.08000000000004" y="450.4" font-size="6.9" fill="#333" stroke="#333" stroke-width="0.2" text-anchor="middle">36</text>
<line x1="485.8" y1="440.9" x2="485.8" y2="443.09999999999997" stroke="#2a2a2a" stroke-width="1"/>
<text x="485.8" y="450.4" font-size="6.9" fill="#333" stroke="#333" stroke-width="0.2" text-anchor="middle">40</text>
<line x1="497.52000000000004" y1="440.9" x2="497.52000000000004" y2="443.09999999999997" stroke="#2a2a2a" stroke-width="1"/>
<text x="497.52000000000004" y="450.4" font-size="6.9" fill="#333" stroke="#333" stroke-width="0.2" text-anchor="middle">44</text>
<line x1="509.24" y1="440.9" x2="509.24" y2="443.09999999999997" stroke="#2a2a2a" stroke-width="1"/>
<text x="509.24" y="450.4" font-size="6.9" fill="#333" stroke="#333" stroke-width="0.2" text-anchor="middle">48</text>
<line x1="520.96" y1="440.9" x2="520.96" y2="443.09999999999997" stroke="#2a2a2a" stroke-width="1"/>
<text x="520.96" y="450.4" font-size="6.9" fill="#333" stroke="#333" stroke-width="0.2" text-anchor="middle">52</text>
<text x="445.2" y="460.2" font-size="6.85" fill="#333" stroke="#333" stroke-width="0.2" text-anchor="middle">Time (weeks)</text>
<path d="M368.75,426.3 L388.4,399.3 L400.7,400.9 L424.2,407.5 L441.8,403.4" stroke="#f0a058" fill="none" stroke-width="1.35" stroke-linejoin="round"/>
<path d="M368.75,426.3 L386.1,417.7 L397.8,416.3 L406.6,419.8 L424.2,415.2 L441.8,417.7 L445.3,410.2" stroke="#f0a058" fill="none" stroke-width="1.35" stroke-linejoin="round"/>
<path d="M368.75,426.3 L433.6,420.4 L459.9,409.9 L471.6,406.7" stroke="#f0a058" fill="none" stroke-width="1.35" stroke-linejoin="round"/>
<path d="M368.75,426.3 L389,427.8 L410.7,425.1" stroke="#f08a40" fill="none" stroke-width="1.2" stroke-linejoin="round"/>
<rect x="385.9" y="396.8" width="5" height="5" fill="#fdebdc" stroke="#f0a058" stroke-width="0.9"/>
<rect x="398.2" y="398.4" width="5" height="5" fill="#fdebdc" stroke="#f0a058" stroke-width="0.9"/>
<rect x="421.7" y="405.0" width="5" height="5" fill="#fdebdc" stroke="#f0a058" stroke-width="0.9"/>
<rect x="439.3" y="400.9" width="5" height="5" fill="#fdebdc" stroke="#f0a058" stroke-width="0.9"/>
<rect x="383.6" y="415.2" width="5" height="5" fill="#fdebdc" stroke="#f0a058" stroke-width="0.9"/>
<rect x="395.3" y="413.8" width="5" height="5" fill="#fdebdc" stroke="#f0a058" stroke-width="0.9"/>
<rect x="404.1" y="417.3" width="5" height="5" fill="#fdebdc" stroke="#f0a058" stroke-width="0.9"/>
<rect x="421.7" y="412.7" width="5" height="5" fill="#fdebdc" stroke="#f0a058" stroke-width="0.9"/>
<rect x="439.3" y="415.2" width="5" height="5" fill="#fdebdc" stroke="#f0a058" stroke-width="0.9"/>
<rect x="442.8" y="407.7" width="5" height="5" fill="#fdebdc" stroke="#f0a058" stroke-width="0.9"/>
<rect x="431.1" y="417.9" width="5" height="5" fill="#fdebdc" stroke="#f0a058" stroke-width="0.9"/>
<rect x="457.4" y="407.4" width="5" height="5" fill="#fdebdc" stroke="#f0a058" stroke-width="0.9"/>
<rect x="469.1" y="404.2" width="5" height="5" fill="#fdebdc" stroke="#f0a058" stroke-width="0.9"/>
<circle cx="389" cy="427.8" r="2.4" fill="#f4a060" stroke="#f08a40" stroke-width="0.9"/>
<circle cx="410.7" cy="425.1" r="2.4" fill="#f4a060" stroke="#f08a40" stroke-width="0.9"/>
<path d="M368.75,426.3 L395.1,339.5" stroke="#1e1e1e" fill="none" stroke-width="1.3" stroke-linejoin="round"/>
<path d="M368.75,426.3 L392.1,358.7" stroke="#1e1e1e" fill="none" stroke-width="1.3" stroke-linejoin="round"/>
<path d="M368.75,426.3 L389.4,366.7 L394.8,366.7" stroke="#1e1e1e" fill="none" stroke-width="1.3" stroke-linejoin="round"/>
<path d="M368.75,426.3 L382.6,399.3 L394.9,393.5 L406.6,393.5" stroke="#1e1e1e" fill="none" stroke-width="1.3" stroke-linejoin="round"/>
<path d="M368.75,426.3 L392.2,420.4 L409.8,330.4" stroke="#1e1e1e" fill="none" stroke-width="1.3" stroke-linejoin="round"/>
<rect x="369.2" y="346.8" width="160" height="4.1" fill="#ffffff"/>
<circle cx="395.1" cy="339.5" r="2.75" fill="none" stroke="#333" stroke-width="0.9"/>
<circle cx="392.1" cy="358.7" r="2.75" fill="none" stroke="#333" stroke-width="0.9"/>
<circle cx="389.4" cy="366.7" r="2.75" fill="none" stroke="#333" stroke-width="0.9"/>
<circle cx="394.8" cy="366.7" r="2.75" fill="none" stroke="#333" stroke-width="0.9"/>
<circle cx="382.6" cy="399.3" r="2.75" fill="none" stroke="#333" stroke-width="0.9"/>
<circle cx="394.9" cy="393.5" r="2.75" fill="none" stroke="#333" stroke-width="0.9"/>
<circle cx="406.6" cy="393.5" r="2.75" fill="none" stroke="#333" stroke-width="0.9"/>
<circle cx="392.2" cy="420.4" r="2.75" fill="none" stroke="#333" stroke-width="0.9"/>
<circle cx="409.8" cy="330.4" r="2.75" fill="none" stroke="#333" stroke-width="0.9"/>
<circle cx="394.9" cy="393.5" r="3" fill="#c4d0e4" stroke="#445" stroke-width="0.9"/>
<circle cx="368.75" cy="426.3" r="2.2" fill="#664" stroke="#553" stroke-width="0.9"/>
<line x1="530" y1="329" x2="538" y2="329" stroke="#222" stroke-width="1"/>
<circle cx="534" cy="329" r="2.4" fill="#fff" stroke="#222" stroke-width="0.9"/>
<line x1="530" y1="329" x2="538" y2="329" stroke="#222" stroke-width="1"/>
<text x="542.2" y="331.4" font-size="6.8" fill="#333" stroke="#333" stroke-width="0.2" textLength="20.7" lengthAdjust="spacingAndGlyphs">01-701</text>
<line x1="530" y1="338.7" x2="538" y2="338.7" stroke="#222" stroke-width="1"/>
<circle cx="534" cy="338.7" r="2.4" fill="#fff" stroke="#222" stroke-width="0.9"/>
<line x1="530" y1="338.7" x2="538" y2="338.7" stroke="#222" stroke-width="1"/>
<text x="542.2" y="341.09999999999997" font-size="6.8" fill="#333" stroke="#333" stroke-width="0.2" textLength="20.7" lengthAdjust="spacingAndGlyphs">01-703</text>
<line x1="530" y1="349.5" x2="538" y2="349.5" stroke="#222" stroke-width="1"/>
<circle cx="534" cy="349.5" r="2.4" fill="#fff" stroke="#222" stroke-width="0.9"/>
<line x1="530" y1="349.5" x2="538" y2="349.5" stroke="#222" stroke-width="1"/>
<text x="542.2" y="351.9" font-size="6.8" fill="#333" stroke="#333" stroke-width="0.2" textLength="20.7" lengthAdjust="spacingAndGlyphs">03-702</text>
<line x1="530" y1="360.2" x2="538" y2="360.2" stroke="#f2a46c" stroke-width="1"/>
<circle cx="534" cy="360.2" r="2.4" fill="#fff" stroke="#f2a46c" stroke-width="0.9"/>
<path d="M531.6,360.2 A2.4,2.4 0 0 0 536.4,360.2 Z" stroke="none" fill="#f2a46c" stroke-width="1"/>
<line x1="530" y1="360.2" x2="538" y2="360.2" stroke="#f2a46c" stroke-width="1"/>
<text x="542.2" y="362.59999999999997" font-size="6.8" fill="#333" stroke="#333" stroke-width="0.2" textLength="20.7" lengthAdjust="spacingAndGlyphs">04-701</text>
<line x1="530" y1="371.2" x2="538" y2="371.2" stroke="#f2a46c" stroke-width="1"/>
<rect x="531.7" y="368.9" width="4.6" height="4.6" fill="#fff" stroke="#f2a46c" stroke-width="0.9"/>
<line x1="530" y1="371.2" x2="538" y2="371.2" stroke="#f2a46c" stroke-width="1"/>
<text x="542.2" y="373.59999999999997" font-size="6.8" fill="#333" stroke="#333" stroke-width="0.2" textLength="20.7" lengthAdjust="spacingAndGlyphs">04-702</text>
<line x1="530" y1="381.7" x2="538" y2="381.7" stroke="#f2a46c" stroke-width="1"/>
<rect x="531.7" y="379.4" width="4.6" height="4.6" fill="#fff" stroke="#f2a46c" stroke-width="0.9"/>
<line x1="530" y1="381.7" x2="538" y2="381.7" stroke="#f2a46c" stroke-width="1"/>
<text x="542.2" y="384.09999999999997" font-size="6.8" fill="#333" stroke="#333" stroke-width="0.2" textLength="20.7" lengthAdjust="spacingAndGlyphs">03-701</text>
<line x1="530" y1="391.3" x2="538" y2="391.3" stroke="#f2a46c" stroke-width="1"/>
<circle cx="534" cy="391.3" r="2.4" fill="#fff" stroke="#f2a46c" stroke-width="0.9"/>
<path d="M531.6,391.3 A2.4,2.4 0 0 0 536.4,391.3 Z" stroke="none" fill="#f2a46c" stroke-width="1"/>
<line x1="530" y1="391.3" x2="538" y2="391.3" stroke="#f2a46c" stroke-width="1"/>
<text x="542.2" y="393.7" font-size="6.8" fill="#333" stroke="#333" stroke-width="0.2" textLength="20.7" lengthAdjust="spacingAndGlyphs">01-704</text>
<line x1="530" y1="401.7" x2="538" y2="401.7" stroke="#222" stroke-width="1"/>
<circle cx="534" cy="401.7" r="2.4" fill="#fff" stroke="#222" stroke-width="0.9"/>
<line x1="530" y1="401.7" x2="538" y2="401.7" stroke="#222" stroke-width="1"/>
<text x="542.2" y="404.09999999999997" font-size="6.8" fill="#333" stroke="#333" stroke-width="0.2" textLength="20.7" lengthAdjust="spacingAndGlyphs">01-702</text>
<line x1="530" y1="411" x2="538" y2="411" stroke="#f2a46c" stroke-width="1"/>
<rect x="531.7" y="408.7" width="4.6" height="4.6" fill="#fff" stroke="#f2a46c" stroke-width="0.9"/>
<line x1="530" y1="411" x2="538" y2="411" stroke="#f2a46c" stroke-width="1"/>
<text x="542.2" y="413.4" font-size="6.8" fill="#333" stroke="#333" stroke-width="0.2" textLength="20.7" lengthAdjust="spacingAndGlyphs">05-701</text>
<line x1="530" y1="422.4" x2="538" y2="422.4" stroke="#222" stroke-width="1"/>
<circle cx="534" cy="422.4" r="2.4" fill="#fff" stroke="#222" stroke-width="0.9"/>
<line x1="530" y1="422.4" x2="538" y2="422.4" stroke="#222" stroke-width="1"/>
<text x="542.2" y="424.79999999999995" font-size="6.8" fill="#333" stroke="#333" stroke-width="0.2" textLength="20.7" lengthAdjust="spacingAndGlyphs">01-707</text>
<text x="569.6" y="363.2" font-size="8.24" fill="#f2a468" stroke="#f2a468" stroke-width="0.2">- SD</text>
<text x="569.6" y="374.2" font-size="8.24" fill="#f2a468" stroke="#f2a468" stroke-width="0.2" textLength="100" lengthAdjust="spacingAndGlyphs">- SD w/ pseudoprogression</text>
<text x="569.6" y="384.7" font-size="8.24" fill="#f2a468" stroke="#f2a468" stroke-width="0.2" textLength="100" lengthAdjust="spacingAndGlyphs">- SD w/ pseudoprogression</text>
<text x="569.6" y="394.3" font-size="8.24" fill="#f2a468" stroke="#f2a468" stroke-width="0.2">- SD</text>
<text x="569.6" y="414" font-size="8.24" fill="#f2a468" stroke="#f2a468" stroke-width="0.2" textLength="100" lengthAdjust="spacingAndGlyphs">- SD w/ pseudoprogression</text>
<rect x="320.5" y="466.8" width="452.0" height="104.90000000000003" fill="#ffffff" stroke="#8e8e8e" stroke-width="1"/>
<rect x="320" y="466.8" width="453" height="15.699999999999989" fill="#1e2660"/>
<text x="322" y="477.4" font-size="9.25" font-weight="bold" fill="#dde1f4" stroke="#dde1f4" stroke-width="0.2">Conclusions</text>
<circle cx="326.6" cy="488.40000000000003" r="1.15" fill="#444"/>
<text x="336.6" y="490.8" font-size="7.78" fill="#3a3a3a" stroke="#3a3a3a" stroke-width="0.2" textLength="425.7" lengthAdjust="spacingAndGlyphs">Both study arms saw improvements in overall survival compared to historical controls, which are ~60% and 30% for 6-month</text>
<text x="336.6" y="500.9" font-size="7.78" fill="#3a3a3a" stroke="#3a3a3a" stroke-width="0.2">and 12-month OS, respectively <tspan font-style="italic">(Taal et al, 2014)</tspan></text>
<circle cx="326.6" cy="511.6" r="1.15" fill="#444"/>
<text x="336.6" y="514" font-size="7.78" fill="#3a3a3a" stroke="#3a3a3a" stroke-width="0.2" textLength="425.4" lengthAdjust="spacingAndGlyphs">In the VBI-1901 + GM-CSF arm, patients achieved a 80% 6-month OS rate (n=8/10) and a 60% 12-month OS rate (n=6/10)</text>
<circle cx="326.6" cy="525.0" r="1.15" fill="#444"/>
<text x="336.6" y="527.4" font-size="7.78" fill="#3a3a3a" stroke="#3a3a3a" stroke-width="0.2" textLength="275.9" lengthAdjust="spacingAndGlyphs">In the VBI-1901 + AS01<tspan font-size="5" dy="2">B</tspan><tspan dy="-2"> arm, patients achieved a 89% 6-month OS rate (n=8/9)</tspan></text>
<circle cx="326.6" cy="538.3000000000001" r="1.15" fill="#444"/>
<text x="336.6" y="540.7" font-size="7.78" fill="#3a3a3a" stroke="#3a3a3a" stroke-width="0.2" textLength="432.4" lengthAdjust="spacingAndGlyphs">To-date, 9 tumor responses have been observed across both study arms – including 7 stable disease and 2 partial responses,</text>
<text x="336.6" y="550.4" font-size="7.78" fill="#3a3a3a" stroke="#3a3a3a" stroke-width="0.2">defined as ≥ 50% tumor reduction</text>
<circle cx="326.6" cy="561.4" r="1.15" fill="#444"/>
<text x="336.6" y="563.8" font-size="7.78" fill="#3a3a3a" stroke="#3a3a3a" stroke-width="0.2" textLength="368" lengthAdjust="spacingAndGlyphs">VBI-1901 was well-tolerated with both adjuvants – no safety signals observed in either Phase 2a study arm</text>
<rect x="687.0" y="79.8" width="339.0" height="384.5" fill="#ffffff" stroke="#8e8e8e" stroke-width="1"/>
<rect x="686.5" y="79.8" width="337.5" height="26.299999999999997" fill="#1e2660"/>
<text x="688.9" y="91.7" font-size="9.25" font-weight="bold" fill="#dde1f4" stroke="#dde1f4" stroke-width="0.2">Clinical Responses :</text>
<text x="689.5" y="101.5" font-size="7.26" fill="#cdd2ee" stroke="#cdd2ee" stroke-width="0.2">6-Month and 12-Month Overall Survival (OS) Status</text>
<rect x="690.3" y="110.2" width="133.3" height="14.7" fill="#e5e7f1" stroke="#5a5a5a" stroke-width="1.1"/>
<text x="756.9499999999999" y="120.1" font-size="8.2" font-weight="bold" fill="#222" stroke="#222" stroke-width="0.2" text-anchor="middle" textLength="98.2" lengthAdjust="spacingAndGlyphs">VBI-1901 10μg + GM-CSF</text>
<text x="829" y="116.8" font-size="8.28" font-weight="bold" fill="#4a52d6" stroke="#4a52d6" stroke-width="0.2" textLength="124.9" lengthAdjust="spacingAndGlyphs">6-month OS Rate : 80% (n=8/10)</text>
<text x="829" y="127.4" font-size="8.28" font-weight="bold" fill="#4a52d6" stroke="#4a52d6" stroke-width="0.2" textLength="129.4" lengthAdjust="spacingAndGlyphs">12-month OS Rate : 60% (n=6/10)</text>
<rect x="809.4" y="134.6" width="62.1" height="12.2" fill="#fffaf6" stroke="#dcc6b8" stroke-width="1"/>
<text x="840.5" y="143.8" font-size="8.2" font-weight="bold" fill="#ec9352" stroke="#ec9352" stroke-width="0.2" text-anchor="middle" textLength="51" lengthAdjust="spacingAndGlyphs">12 Month OS</text>
<rect x="728.7" y="145.1" width="49.5" height="7.8" fill="#14ee14"/>
<rect x="728.7" y="145.1" width="28.09999999999991" height="7.8" fill="#1434e6"/>
<line x1="726.5" y1="149.0" x2="728.7" y2="149.0" stroke="#2a2a2a" stroke-width="1"/>
<text x="725.7" y="151.5" font-size="7.07" fill="#333" stroke="#333" stroke-width="0.2" text-anchor="end" textLength="22" lengthAdjust="spacingAndGlyphs">03-007</text>
<text x="780.4000000000001" y="152.0" font-size="8" font-weight="bold" fill="#222" stroke="#222" stroke-width="0.2">†</text>
<rect x="728.7" y="156.04999999999998" width="51.69999999999993" height="7.8" fill="#14ee14"/>
<rect x="728.7" y="156.04999999999998" width="6.199999999999932" height="7.8" fill="#1434e6"/>
<line x1="726.5" y1="159.95" x2="728.7" y2="159.95" stroke="#2a2a2a" stroke-width="1"/>
<text x="725.7" y="162.45" font-size="7.07" fill="#333" stroke="#333" stroke-width="0.2" text-anchor="end" textLength="22" lengthAdjust="spacingAndGlyphs">04-004</text>
<text x="782.6" y="162.95" font-size="8" font-weight="bold" fill="#222" stroke="#222" stroke-width="0.2">†</text>
<rect x="728.7" y="167.0" width="99.69999999999993" height="7.8" fill="#14ee14"/>
<rect x="728.7" y="167.0" width="10.199999999999932" height="7.8" fill="#1434e6"/>
<line x1="726.5" y1="170.9" x2="728.7" y2="170.9" stroke="#2a2a2a" stroke-width="1"/>
<text x="725.7" y="173.4" font-size="7.07" fill="#333" stroke="#333" stroke-width="0.2" text-anchor="end" textLength="22" lengthAdjust="spacingAndGlyphs">03-014</text>
<text x="830.6" y="173.9" font-size="8" font-weight="bold" fill="#222" stroke="#222" stroke-width="0.2">†</text>
<rect x="728.7" y="177.95" width="121.59999999999991" height="7.8" fill="#14ee14"/>
<rect x="728.7" y="177.95" width="8.099999999999909" height="7.8" fill="#1434e6"/>
<line x1="726.5" y1="181.85" x2="728.7" y2="181.85" stroke="#2a2a2a" stroke-width="1"/>
<text x="725.7" y="184.35" font-size="7.07" fill="#333" stroke="#333" stroke-width="0.2" text-anchor="end" textLength="22" lengthAdjust="spacingAndGlyphs">03-016</text>
<rect x="728.7" y="188.9" width="82.09999999999991" height="7.8" fill="#14ee14"/>
<rect x="728.7" y="188.9" width="21.59999999999991" height="7.8" fill="#1434e6"/>
<line x1="726.5" y1="192.8" x2="728.7" y2="192.8" stroke="#2a2a2a" stroke-width="1"/>
<text x="725.7" y="195.3" font-size="7.07" fill="#333" stroke="#333" stroke-width="0.2" text-anchor="end" textLength="22" lengthAdjust="spacingAndGlyphs">03-012</text>
<text x="813.0" y="195.8" font-size="8" font-weight="bold" fill="#222" stroke="#222" stroke-width="0.2">†</text>
<rect x="728.7" y="199.85" width="138.79999999999995" height="7.8" fill="#14ee14"/>
<rect x="728.7" y="199.85" width="34.799999999999955" height="7.8" fill="#1434e6"/>
<line x1="726.5" y1="203.75" x2="728.7" y2="203.75" stroke="#2a2a2a" stroke-width="1"/>
<text x="725.7" y="206.25" font-size="7.07" fill="#333" stroke="#333" stroke-width="0.2" text-anchor="end" textLength="22" lengthAdjust="spacingAndGlyphs">03-015</text>
<rect x="728.7" y="210.79999999999998" width="117.29999999999995" height="7.8" fill="#14ee14"/>
<rect x="728.7" y="210.79999999999998" width="41.0" height="7.8" fill="#1434e6"/>
<line x1="726.5" y1="214.7" x2="728.7" y2="214.7" stroke="#2a2a2a" stroke-width="1"/>
<text x="725.7" y="217.2" font-size="7.07" fill="#333" stroke="#333" stroke-width="0.2" text-anchor="end" textLength="22" lengthAdjust="spacingAndGlyphs">01-028</text>
<text x="848.2" y="217.7" font-size="8" font-weight="bold" fill="#222" stroke="#222" stroke-width="0.2">†</text>
<rect x="728.7" y="221.74999999999997" width="115.0" height="7.8" fill="#14ee14"/>
<rect x="728.7" y="221.74999999999997" width="36.59999999999991" height="7.8" fill="#1434e6"/>
<line x1="726.5" y1="225.64999999999998" x2="728.7" y2="225.64999999999998" stroke="#2a2a2a" stroke-width="1"/>
<text x="725.7" y="228.14999999999998" font-size="7.07" fill="#333" stroke="#333" stroke-width="0.2" text-anchor="end" textLength="22" lengthAdjust="spacingAndGlyphs">04-005</text>
<rect x="728.7" y="232.7" width="144.69999999999993" height="7.8" fill="#14ee14"/>
<rect x="728.7" y="232.7" width="104.0" height="7.8" fill="#1434e6"/>
<line x1="726.5" y1="236.6" x2="728.7" y2="236.6" stroke="#2a2a2a" stroke-width="1"/>
<text x="725.7" y="239.1" font-size="7.07" fill="#333" stroke="#333" stroke-width="0.2" text-anchor="end" textLength="22" lengthAdjust="spacingAndGlyphs">04-002</text>
<text x="875.6" y="239.6" font-size="8" font-weight="bold" fill="#222" stroke="#222" stroke-width="0.2">†</text>
<rect x="728.7" y="243.65" width="130.0" height="7.8" fill="#1434e6"/>
<line x1="726.5" y1="247.55" x2="728.7" y2="247.55" stroke="#2a2a2a" stroke-width="1"/>
<text x="725.7" y="250.05" font-size="7.07" fill="#333" stroke="#333" stroke-width="0.2" text-anchor="end" textLength="22" lengthAdjust="spacingAndGlyphs">04-006</text>
<line x1="728.7" y1="142.3" x2="728.7" y2="254.8" stroke="#2a2a2a" stroke-width="1.3"/>
<line x1="728.1" y1="254.8" x2="954.9800000000001" y2="254.8" stroke="#2a2a2a" stroke-width="1.3"/>
<line x1="728.7" y1="254.8" x2="728.7" y2="257.0" stroke="#2a2a2a" stroke-width="1"/>
<text transform="translate(730.5,260.0) rotate(-45)" font-size="6.9" fill="#333" text-anchor="end">0</text>
<line x1="746.0600000000001" y1="254.8" x2="746.0600000000001" y2="257.0" stroke="#2a2a2a" stroke-width="1"/>
<text transform="translate(747.86,260.0) rotate(-45)" font-size="6.9" fill="#333" text-anchor="end">8</text>
<line x1="763.4200000000001" y1="254.8" x2="763.4200000000001" y2="257.0" stroke="#2a2a2a" stroke-width="1"/>
<text transform="translate(765.22,260.0) rotate(-45)" font-size="6.9" fill="#333" text-anchor="end">16</text>
<line x1="780.7800000000001" y1="254.8" x2="780.7800000000001" y2="257.0" stroke="#2a2a2a" stroke-width="1"/>
<text transform="translate(782.58,260.0) rotate(-45)" font-size="6.9" fill="#333" text-anchor="end">24</text>
<line x1="798.1400000000001" y1="254.8" x2="798.1400000000001" y2="257.0" stroke="#2a2a2a" stroke-width="1"/>
<text transform="translate(799.94,260.0) rotate(-45)" font-size="6.9" fill="#333" text-anchor="end">32</text>
<line x1="815.5" y1="254.8" x2="815.5" y2="257.0" stroke="#2a2a2a" stroke-width="1"/>
<text transform="translate(817.3,260.0) rotate(-45)" font-size="6.9" fill="#333" text-anchor="end">40</text>
<line x1="832.86" y1="254.8" x2="832.86" y2="257.0" stroke="#2a2a2a" stroke-width="1"/>
<text transform="translate(834.66,260.0) rotate(-45)" font-size="6.9" fill="#333" text-anchor="end">48</text>
<line x1="850.22" y1="254.8" x2="850.22" y2="257.0" stroke="#2a2a2a" stroke-width="1"/>
<text transform="translate(852.02,260.0) rotate(-45)" font-size="6.9" fill="#333" text-anchor="end">56</text>
<line x1="867.58" y1="254.8" x2="867.58" y2="257.0" stroke="#2a2a2a" stroke-width="1"/>
<text transform="translate(869.38,260.0) rotate(-45)" font-size="6.9" fill="#333" text-anchor="end">64</text>
<line x1="884.94" y1="254.8" x2="884.94" y2="257.0" stroke="#2a2a2a" stroke-width="1"/>
<text transform="translate(886.74,260.0) rotate(-45)" font-size="6.9" fill="#333" text-anchor="end">72</text>
<line x1="902.3000000000001" y1="254.8" x2="902.3000000000001" y2="257.0" stroke="#2a2a2a" stroke-width="1"/>
<text transform="translate(904.1,260.0) rotate(-45)" font-size="6.9" fill="#333" text-anchor="end">80</text>
<line x1="919.6600000000001" y1="254.8" x2="919.6600000000001" y2="257.0" stroke="#2a2a2a" stroke-width="1"/>
<text transform="translate(921.46,260.0) rotate(-45)" font-size="6.9" fill="#333" text-anchor="end">88</text>
<line x1="937.02" y1="254.8" x2="937.02" y2="257.0" stroke="#2a2a2a" stroke-width="1"/>
<text transform="translate(938.8199999999999,260.0) rotate(-45)" font-size="6.9" fill="#333" text-anchor="end">96</text>
<line x1="954.3800000000001" y1="254.8" x2="954.3800000000001" y2="257.0" stroke="#2a2a2a" stroke-width="1"/>
<text transform="translate(956.1800000000001,260.0) rotate(-45)" font-size="6.9" fill="#333" text-anchor="end">104</text>
<line x1="840.3" y1="147.5" x2="840.3" y2="254.8" stroke="#d8604a" stroke-width="1" stroke-dasharray="3,2"/>
<path d="M863,247.8 L878,247.8" stroke="#111" fill="none" stroke-width="1.2"/>
<path d="M877,245.2 L882,247.8 L877,250.4 Z" stroke="none" fill="#111" stroke-width="1"/>
<text x="887.7" y="250.4" font-size="8.23" fill="#f2a67a" stroke="#f2a67a" stroke-width="0.2" textLength="100.2" lengthAdjust="spacingAndGlyphs">Patient remains on protocol</text>
<text transform="translate(699.2,200.7) rotate(-90)" font-size="7.97" font-weight="bold" fill="#222" text-anchor="middle">Patients</text>
<text x="843.4" y="277.3" font-size="8.3" fill="#333" stroke="#333" stroke-width="0.2" text-anchor="middle" textLength="62.6" lengthAdjust="spacingAndGlyphs">Survival (Weeks)</text>
<rect x="899.4" y="158" width="118.5" height="53.7" fill="#ffffff" stroke="#555" stroke-width="1.1"/>
<text x="958.7" y="169.8" font-size="8.35" font-weight="bold" font-style="italic" fill="#eda440" stroke="#eda440" stroke-width="0.2" text-anchor="middle" textLength="91.9" lengthAdjust="spacingAndGlyphs">Historical OS Controls:</text>
<text x="958.2" y="179.7" font-size="8.21" font-style="italic" fill="#333" stroke="#333" stroke-width="0.2" text-anchor="middle" textLength="61.3" lengthAdjust="spacingAndGlyphs">(Taal et al, 2014)</text>
<circle cx="903.4" cy="189.7" r="1.15" fill="#333"/>
<text x="911.1" y="192.1" font-size="8.24" fill="#333" stroke="#333" stroke-width="0.2" textLength="72.6" lengthAdjust="spacingAndGlyphs">6-month OS : ~60%</text>
<circle cx="903.4" cy="203.2" r="1.15" fill="#333"/>
<text x="911.1" y="205.6" font-size="8.24" fill="#333" stroke="#333" stroke-width="0.2" textLength="77.8" lengthAdjust="spacingAndGlyphs">12-month OS : ~30%</text>
<rect x="690" y="286" width="133.8" height="15.6" fill="#e5e7f1" stroke="#5a5a5a" stroke-width="1.1"/>
<text x="756.9" y="296.3" font-size="8.2" font-weight="bold" fill="#222" stroke="#222" stroke-width="0.2" text-anchor="middle">VBI-1901 10μg + AS01<tspan font-size="5.5" dy="2">B</tspan></text>
<text x="828.8" y="292.6" font-size="8.28" font-weight="bold" fill="#4a52d6" stroke="#4a52d6" stroke-width="0.2" textLength="120.4" lengthAdjust="spacingAndGlyphs">6-month OS Rate : 89% (n=8/9)</text>
<text x="828.8" y="303.5" font-size="8.3" font-style="italic" fill="#4a52d6" stroke="#4a52d6" stroke-width="0.2" textLength="129" lengthAdjust="spacingAndGlyphs">12-month OS Rate not yet reached</text>
<rect x="759.4" y="309.2" width="53.3" height="11.5" fill="#fffaf6" stroke="#dcc6b8" stroke-width="1"/>
<text x="786" y="317.9" font-size="8.2" font-weight="bold" fill="#ec9352" stroke="#ec9352" stroke-width="0.2" text-anchor="middle" textLength="44.5" lengthAdjust="spacingAndGlyphs">6 Month OS</text>
<rect x="728.6" y="325.6" width="23.600000000000023" height="7.8" fill="#14ee14"/>
<rect x="728.6" y="325.6" width="8.699999999999932" height="7.8" fill="#1434e6"/>
<line x1="726.4" y1="329.5" x2="728.6" y2="329.5" stroke="#2a2a2a" stroke-width="1"/>
<text x="725.6" y="332.0" font-size="7.07" fill="#333" stroke="#333" stroke-width="0.2" text-anchor="end" textLength="22" lengthAdjust="spacingAndGlyphs">03-702</text>
<path d="M756.40,327.70 L756.40,331.90 M758.22,328.75 L754.58,330.85 M758.22,330.85 L754.58,328.75 " stroke="#222" fill="none" stroke-width="1.1"/>
<rect x="728.6" y="336.52000000000004" width="60.5" height="7.8" fill="#14ee14"/>
<rect x="728.6" y="336.52000000000004" width="12.699999999999932" height="7.8" fill="#1434e6"/>
<line x1="726.4" y1="340.42" x2="728.6" y2="340.42" stroke="#2a2a2a" stroke-width="1"/>
<text x="725.6" y="342.92" font-size="7.07" fill="#333" stroke="#333" stroke-width="0.2" text-anchor="end" textLength="22" lengthAdjust="spacingAndGlyphs">01-707</text>
<rect x="728.6" y="347.44" width="93.29999999999995" height="7.8" fill="#14ee14"/>
<rect x="728.6" y="347.44" width="17.299999999999955" height="7.8" fill="#1434e6"/>
<line x1="726.4" y1="351.34" x2="728.6" y2="351.34" stroke="#2a2a2a" stroke-width="1"/>
<text x="725.6" y="353.84" font-size="7.07" fill="#333" stroke="#333" stroke-width="0.2" text-anchor="end" textLength="22" lengthAdjust="spacingAndGlyphs">01-703</text>
<text x="824.1" y="354.34" font-size="8" font-weight="bold" fill="#222" stroke="#222" stroke-width="0.2">†</text>
<rect x="728.6" y="358.36" width="45.19999999999993" height="7.8" fill="#14ee14"/>
<rect x="728.6" y="358.36" width="28.0" height="7.8" fill="#1434e6"/>
<line x1="726.4" y1="362.26" x2="728.6" y2="362.26" stroke="#2a2a2a" stroke-width="1"/>
<text x="725.6" y="364.76" font-size="7.07" fill="#333" stroke="#333" stroke-width="0.2" text-anchor="end" textLength="22" lengthAdjust="spacingAndGlyphs">01-704</text>
<text x="776.0" y="365.26" font-size="8" font-weight="bold" fill="#222" stroke="#222" stroke-width="0.2">†</text>
<rect x="728.6" y="369.28000000000003" width="100.0" height="7.8" fill="#14ee14"/>
<rect x="728.6" y="369.28000000000003" width="25.899999999999977" height="7.8" fill="#1434e6"/>
<line x1="726.4" y1="373.18" x2="728.6" y2="373.18" stroke="#2a2a2a" stroke-width="1"/>
<text x="725.6" y="375.68" font-size="7.07" fill="#333" stroke="#333" stroke-width="0.2" text-anchor="end" textLength="22" lengthAdjust="spacingAndGlyphs">01-702</text>
<rect x="728.6" y="380.20000000000005" width="106.29999999999995" height="7.8" fill="#14ee14"/>
<rect x="728.6" y="380.20000000000005" width="38.89999999999998" height="7.8" fill="#1434e6"/>
<line x1="726.4" y1="384.1" x2="728.6" y2="384.1" stroke="#2a2a2a" stroke-width="1"/>
<text x="725.6" y="386.6" font-size="7.07" fill="#333" stroke="#333" stroke-width="0.2" text-anchor="end" textLength="22" lengthAdjust="spacingAndGlyphs">01-701</text>
<rect x="728.6" y="391.12" width="87.0" height="7.8" fill="#14ee14"/>
<rect x="728.6" y="391.12" width="67.39999999999998" height="7.8" fill="#1434e6"/>
<line x1="726.4" y1="395.02" x2="728.6" y2="395.02" stroke="#2a2a2a" stroke-width="1"/>
<text x="725.6" y="397.52" font-size="7.07" fill="#333" stroke="#333" stroke-width="0.2" text-anchor="end" textLength="22" lengthAdjust="spacingAndGlyphs">04-701</text>
<rect x="728.6" y="402.04" width="91.29999999999995" height="7.8" fill="#14ee14"/>
<rect x="728.6" y="402.04" width="60.5" height="7.8" fill="#1434e6"/>
<line x1="726.4" y1="405.94" x2="728.6" y2="405.94" stroke="#2a2a2a" stroke-width="1"/>
<text x="725.6" y="408.44" font-size="7.07" fill="#333" stroke="#333" stroke-width="0.2" text-anchor="end" textLength="22" lengthAdjust="spacingAndGlyphs">04-702</text>
<rect x="728.6" y="412.96000000000004" width="58.19999999999993" height="7.8" fill="#1434e6"/>
<line x1="726.4" y1="416.86" x2="728.6" y2="416.86" stroke="#2a2a2a" stroke-width="1"/>
<text x="725.6" y="419.36" font-size="7.07" fill="#333" stroke="#333" stroke-width="0.2" text-anchor="end" textLength="22" lengthAdjust="spacingAndGlyphs">05-701</text>
<rect x="728.6" y="423.88" width="95.60000000000002" height="7.8" fill="#1434e6"/>
<line x1="726.4" y1="427.78" x2="728.6" y2="427.78" stroke="#2a2a2a" stroke-width="1"/>
<text x="725.6" y="430.28" font-size="7.07" fill="#333" stroke="#333" stroke-width="0.2" text-anchor="end" textLength="22" lengthAdjust="spacingAndGlyphs">03-701</text>
<line x1="728.6" y1="323" x2="728.6" y2="434.6" stroke="#2a2a2a" stroke-width="1.3"/>
<line x1="728.0" y1="434.6" x2="955.296" y2="434.6" stroke="#2a2a2a" stroke-width="1.3"/>
<line x1="728.6" y1="434.6" x2="728.6" y2="436.8" stroke="#2a2a2a" stroke-width="1"/>
<text transform="translate(730.4,439.8) rotate(-45)" font-size="6.9" fill="#333" text-anchor="end">0</text>
<line x1="745.9920000000001" y1="434.6" x2="745.9920000000001" y2="436.8" stroke="#2a2a2a" stroke-width="1"/>
<text transform="translate(747.792,439.8) rotate(-45)" font-size="6.9" fill="#333" text-anchor="end">8</text>
<line x1="763.384" y1="434.6" x2="763.384" y2="436.8" stroke="#2a2a2a" stroke-width="1"/>
<text transform="translate(765.184,439.8) rotate(-45)" font-size="6.9" fill="#333" text-anchor="end">16</text>
<line x1="780.7760000000001" y1="434.6" x2="780.7760000000001" y2="436.8" stroke="#2a2a2a" stroke-width="1"/>
<text transform="translate(782.576,439.8) rotate(-45)" font-size="6.9" fill="#333" text-anchor="end">24</text>
<line x1="798.168" y1="434.6" x2="798.168" y2="436.8" stroke="#2a2a2a" stroke-width="1"/>
<text transform="translate(799.968,439.8) rotate(-45)" font-size="6.9" fill="#333" text-anchor="end">32</text>
<line x1="815.5600000000001" y1="434.6" x2="815.5600000000001" y2="436.8" stroke="#2a2a2a" stroke-width="1"/>
<text transform="translate(817.36,439.8) rotate(-45)" font-size="6.9" fill="#333" text-anchor="end">40</text>
<line x1="832.952" y1="434.6" x2="832.952" y2="436.8" stroke="#2a2a2a" stroke-width="1"/>
<text transform="translate(834.752,439.8) rotate(-45)" font-size="6.9" fill="#333" text-anchor="end">48</text>
<line x1="850.344" y1="434.6" x2="850.344" y2="436.8" stroke="#2a2a2a" stroke-width="1"/>
<text transform="translate(852.144,439.8) rotate(-45)" font-size="6.9" fill="#333" text-anchor="end">56</text>
<line x1="867.736" y1="434.6" x2="867.736" y2="436.8" stroke="#2a2a2a" stroke-width="1"/>
<text transform="translate(869.536,439.8) rotate(-45)" font-size="6.9" fill="#333" text-anchor="end">64</text>
<line x1="885.128" y1="434.6" x2="885.128" y2="436.8" stroke="#2a2a2a" stroke-width="1"/>
<text transform="translate(886.928,439.8) rotate(-45)" font-size="6.9" fill="#333" text-anchor="end">72</text>
<line x1="902.52" y1="434.6" x2="902.52" y2="436.8" stroke="#2a2a2a" stroke-width="1"/>
<text transform="translate(904.3199999999999,439.8) rotate(-45)" font-size="6.9" fill="#333" text-anchor="end">80</text>
<line x1="919.912" y1="434.6" x2="919.912" y2="436.8" stroke="#2a2a2a" stroke-width="1"/>
<text transform="translate(921.712,439.8) rotate(-45)" font-size="6.9" fill="#333" text-anchor="end">88</text>
<line x1="937.3040000000001" y1="434.6" x2="937.3040000000001" y2="436.8" stroke="#2a2a2a" stroke-width="1"/>
<text transform="translate(939.104,439.8) rotate(-45)" font-size="6.9" fill="#333" text-anchor="end">96</text>
<line x1="954.696" y1="434.6" x2="954.696" y2="436.8" stroke="#2a2a2a" stroke-width="1"/>
<text transform="translate(956.496,439.8) rotate(-45)" font-size="6.9" fill="#333" text-anchor="end">104</text>
<line x1="784.9" y1="321.5" x2="784.9" y2="434.6" stroke="#d8604a" stroke-width="1" stroke-dasharray="3,2"/>
<path d="M828.6,427.8 L844,427.8" stroke="#111" fill="none" stroke-width="1.2"/>
<path d="M843,425.2 L848.5,427.8 L843,430.4 Z" stroke="none" fill="#111" stroke-width="1"/>
<text x="853" y="430.4" font-size="8.23" fill="#f2a67a" stroke="#f2a67a" stroke-width="0.2" textLength="100.2" lengthAdjust="spacingAndGlyphs">Patient remains on protocol</text>
<text transform="translate(699,376.6) rotate(-90)" font-size="7.97" font-weight="bold" fill="#222" text-anchor="middle">Patients</text>
<text x="843.4" y="457.6" font-size="8.3" fill="#333" stroke="#333" stroke-width="0.2" text-anchor="middle" textLength="62.6" lengthAdjust="spacingAndGlyphs">Survival (Weeks)</text>
<text x="905.4" y="343.2" font-size="8.23" font-style="italic" fill="#333" stroke="#333" stroke-width="0.2" textLength="73.8" lengthAdjust="spacingAndGlyphs">As of April 30, 2021:</text>
<rect x="905.9" y="349.7" width="7.9" height="6.7" fill="#1434e6"/>
<text x="918" y="355.8" font-size="8.23" fill="#333" stroke="#333" stroke-width="0.2" textLength="94.7" lengthAdjust="spacingAndGlyphs">Still On VBI-1901 protocol</text>
<rect x="905.9" y="362" width="7.9" height="7" fill="#14ee14"/>
<text x="918" y="368.2" font-size="8.23" fill="#333" stroke="#333" stroke-width="0.2">Off VBI-1901 protocol</text>
<text x="910" y="381" font-size="8" font-weight="bold" fill="#222" stroke="#222" stroke-width="0.2" text-anchor="middle">†</text>
<text x="918" y="380.3" font-size="8.23" fill="#333" stroke="#333" stroke-width="0.2">Patient Mortality</text>
<path d="M910.20,388.20 L910.20,392.40 M912.02,389.25 L908.38,391.35 M912.02,391.35 L908.38,389.25 " stroke="#222" fill="none" stroke-width="1.1"/>
<text x="918" y="392.8" font-size="8.23" fill="#333" stroke="#333" stroke-width="0.2">Patient lost in follow-up</text>
<rect x="777.5" y="467.4" width="248.5" height="55.89999999999998" fill="#ffffff" stroke="#8e8e8e" stroke-width="1"/>
<rect x="777" y="467.4" width="247" height="15.200000000000045" fill="#1e2660"/>
<text x="779.4" y="477.8" font-size="9.25" font-weight="bold" fill="#dde1f4" stroke="#dde1f4" stroke-width="0.2">Conflicts &amp; Sponsorships</text>
<circle cx="784.4" cy="487.70000000000005" r="1.15" fill="#555"/>
<text x="792.3" y="490.1" font-size="7.26" fill="#3a3a3a" stroke="#3a3a3a" stroke-width="0.2" textLength="212.4" lengthAdjust="spacingAndGlyphs">Dr. Patrick Y. Wen is an investigator of the study and his institution</text>
<text x="792.3" y="498.6" font-size="7.26" fill="#3a3a3a" stroke="#3a3a3a" stroke-width="0.2" textLength="230.2" lengthAdjust="spacingAndGlyphs">received financial support for the services performed at his study center</text>
<circle cx="784.4" cy="508.40000000000003" r="1.15" fill="#555"/>
<text x="792.3" y="510.8" font-size="7.26" fill="#3a3a3a" stroke="#3a3a3a" stroke-width="0.2" textLength="219" lengthAdjust="spacingAndGlyphs">Dr. Anderson is the Chief Scientific Officer and Dr. Diaz-Mitoma is the</text>
<text x="792.3" y="518.9" font-size="7.26" fill="#3a3a3a" stroke="#3a3a3a" stroke-width="0.2" textLength="200" lengthAdjust="spacingAndGlyphs">Chief Medical Officer at VBI Vaccines, the sponsor of the study</text>
<rect x="777.5" y="528" width="248.5" height="43.299999999999955" fill="#ffffff" stroke="#8e8e8e" stroke-width="1"/>
<rect x="777" y="528" width="247" height="16" fill="#1e2660"/>
<text x="779.4" y="539.5" font-size="9.25" font-weight="bold" fill="#dde1f4" stroke="#dde1f4" stroke-width="0.2">Contact Information</text>
<text x="782.5" y="554.2" font-size="7.25" fill="#3a3a3a" stroke="#3a3a3a" stroke-width="0.2" textLength="160" lengthAdjust="spacingAndGlyphs">Dr. Patrick Y. Wen: patrick_wen@dfci.harvard.edu</text>
<text x="782.5" y="565.7" font-size="7.25" fill="#3a3a3a" stroke="#3a3a3a" stroke-width="0.2" textLength="172.7" lengthAdjust="spacingAndGlyphs">Dr. David E. Anderson : danderson@vbivaccines.com</text>
<rect x="0" y="571.3" width="1024" height="1.7" fill="#a3a7ae"/>
</svg>
</body></html>
